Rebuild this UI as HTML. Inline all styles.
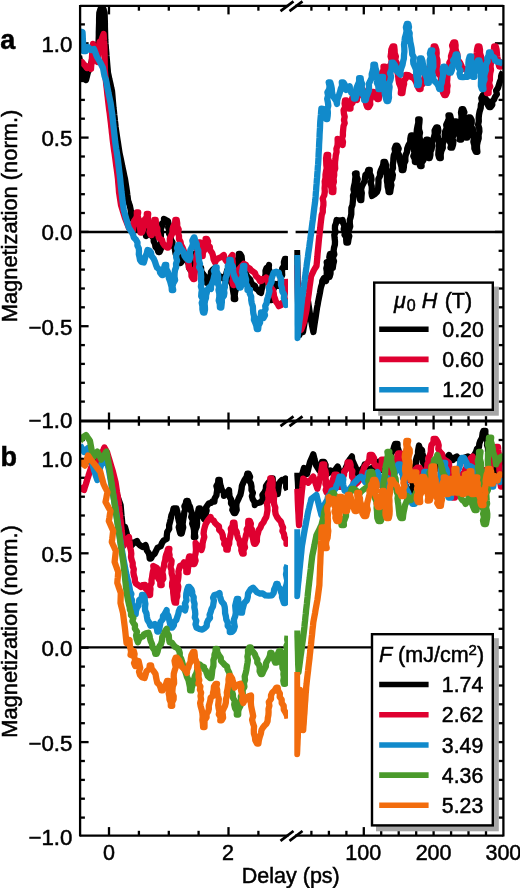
<!DOCTYPE html>
<html><head><meta charset="utf-8"><title>Magnetization vs delay</title>
<style>html,body{margin:0;padding:0;background:#fff}body{width:520px;height:888px;overflow:hidden}svg{display:block}text{font-family:"Liberation Sans",Arial,Helvetica,sans-serif;fill:#000;stroke:#000;stroke-width:0.5px}</style>
</head><body>
<svg width="520" height="888" viewBox="0 0 520 888">
<rect x="0" y="0" width="520" height="888" fill="#fff"/>
<defs>
<clipPath id="cAL"><rect x="80.1" y="5.9" width="207.9" height="415.1"/></clipPath>
<clipPath id="cAR"><rect x="294.3" y="5.9" width="209.1" height="415.1"/></clipPath>
<clipPath id="cBL"><rect x="80.1" y="421.0" width="207.9" height="414.6"/></clipPath>
<clipPath id="cBR"><rect x="294.3" y="421.0" width="209.1" height="414.6"/></clipPath>
</defs>
<g stroke="#000" stroke-width="2.3" fill="none" stroke-linecap="butt">
<line x1="109.0" y1="5.9" x2="109.0" y2="14.4"/>
<line x1="109.0" y1="412.5" x2="109.0" y2="429.5"/>
<line x1="109.0" y1="827.1" x2="109.0" y2="835.6"/>
<line x1="138.9" y1="5.9" x2="138.9" y2="10.7"/>
<line x1="138.9" y1="416.2" x2="138.9" y2="425.8"/>
<line x1="138.9" y1="830.8" x2="138.9" y2="835.6"/>
<line x1="168.8" y1="5.9" x2="168.8" y2="10.7"/>
<line x1="168.8" y1="416.2" x2="168.8" y2="425.8"/>
<line x1="168.8" y1="830.8" x2="168.8" y2="835.6"/>
<line x1="198.6" y1="5.9" x2="198.6" y2="10.7"/>
<line x1="198.6" y1="416.2" x2="198.6" y2="425.8"/>
<line x1="198.6" y1="830.8" x2="198.6" y2="835.6"/>
<line x1="228.5" y1="5.9" x2="228.5" y2="14.4"/>
<line x1="228.5" y1="412.5" x2="228.5" y2="429.5"/>
<line x1="228.5" y1="827.1" x2="228.5" y2="835.6"/>
<line x1="258.4" y1="5.9" x2="258.4" y2="10.7"/>
<line x1="258.4" y1="416.2" x2="258.4" y2="425.8"/>
<line x1="258.4" y1="830.8" x2="258.4" y2="835.6"/>
<line x1="311.4" y1="5.9" x2="311.4" y2="10.7"/>
<line x1="311.4" y1="416.2" x2="311.4" y2="425.8"/>
<line x1="311.4" y1="830.8" x2="311.4" y2="835.6"/>
<line x1="328.9" y1="5.9" x2="328.9" y2="10.7"/>
<line x1="328.9" y1="416.2" x2="328.9" y2="425.8"/>
<line x1="328.9" y1="830.8" x2="328.9" y2="835.6"/>
<line x1="346.4" y1="5.9" x2="346.4" y2="10.7"/>
<line x1="346.4" y1="416.2" x2="346.4" y2="425.8"/>
<line x1="346.4" y1="830.8" x2="346.4" y2="835.6"/>
<line x1="363.8" y1="5.9" x2="363.8" y2="14.4"/>
<line x1="363.8" y1="412.5" x2="363.8" y2="429.5"/>
<line x1="363.8" y1="827.1" x2="363.8" y2="835.6"/>
<line x1="381.2" y1="5.9" x2="381.2" y2="10.7"/>
<line x1="381.2" y1="416.2" x2="381.2" y2="425.8"/>
<line x1="381.2" y1="830.8" x2="381.2" y2="835.6"/>
<line x1="398.7" y1="5.9" x2="398.7" y2="10.7"/>
<line x1="398.7" y1="416.2" x2="398.7" y2="425.8"/>
<line x1="398.7" y1="830.8" x2="398.7" y2="835.6"/>
<line x1="416.2" y1="5.9" x2="416.2" y2="10.7"/>
<line x1="416.2" y1="416.2" x2="416.2" y2="425.8"/>
<line x1="416.2" y1="830.8" x2="416.2" y2="835.6"/>
<line x1="433.6" y1="5.9" x2="433.6" y2="14.4"/>
<line x1="433.6" y1="412.5" x2="433.6" y2="429.5"/>
<line x1="433.6" y1="827.1" x2="433.6" y2="835.6"/>
<line x1="451.1" y1="5.9" x2="451.1" y2="10.7"/>
<line x1="451.1" y1="416.2" x2="451.1" y2="425.8"/>
<line x1="451.1" y1="830.8" x2="451.1" y2="835.6"/>
<line x1="468.5" y1="5.9" x2="468.5" y2="10.7"/>
<line x1="468.5" y1="416.2" x2="468.5" y2="425.8"/>
<line x1="468.5" y1="830.8" x2="468.5" y2="835.6"/>
<line x1="486.0" y1="5.9" x2="486.0" y2="10.7"/>
<line x1="486.0" y1="416.2" x2="486.0" y2="425.8"/>
<line x1="486.0" y1="830.8" x2="486.0" y2="835.6"/>
<line x1="80.1" y1="401.6" x2="84.9" y2="401.6"/>
<line x1="498.6" y1="401.6" x2="503.4" y2="401.6"/>
<line x1="80.1" y1="382.8" x2="84.9" y2="382.8"/>
<line x1="498.6" y1="382.8" x2="503.4" y2="382.8"/>
<line x1="80.1" y1="363.9" x2="84.9" y2="363.9"/>
<line x1="498.6" y1="363.9" x2="503.4" y2="363.9"/>
<line x1="80.1" y1="345.1" x2="84.9" y2="345.1"/>
<line x1="498.6" y1="345.1" x2="503.4" y2="345.1"/>
<line x1="80.1" y1="326.2" x2="88.6" y2="326.2"/>
<line x1="494.9" y1="326.2" x2="503.4" y2="326.2"/>
<line x1="80.1" y1="307.3" x2="84.9" y2="307.3"/>
<line x1="498.6" y1="307.3" x2="503.4" y2="307.3"/>
<line x1="80.1" y1="288.5" x2="84.9" y2="288.5"/>
<line x1="498.6" y1="288.5" x2="503.4" y2="288.5"/>
<line x1="80.1" y1="269.6" x2="84.9" y2="269.6"/>
<line x1="498.6" y1="269.6" x2="503.4" y2="269.6"/>
<line x1="80.1" y1="250.8" x2="84.9" y2="250.8"/>
<line x1="498.6" y1="250.8" x2="503.4" y2="250.8"/>
<line x1="80.1" y1="231.9" x2="88.6" y2="231.9"/>
<line x1="494.9" y1="231.9" x2="503.4" y2="231.9"/>
<line x1="80.1" y1="213.0" x2="84.9" y2="213.0"/>
<line x1="498.6" y1="213.0" x2="503.4" y2="213.0"/>
<line x1="80.1" y1="194.2" x2="84.9" y2="194.2"/>
<line x1="498.6" y1="194.2" x2="503.4" y2="194.2"/>
<line x1="80.1" y1="175.3" x2="84.9" y2="175.3"/>
<line x1="498.6" y1="175.3" x2="503.4" y2="175.3"/>
<line x1="80.1" y1="156.5" x2="84.9" y2="156.5"/>
<line x1="498.6" y1="156.5" x2="503.4" y2="156.5"/>
<line x1="80.1" y1="137.6" x2="88.6" y2="137.6"/>
<line x1="494.9" y1="137.6" x2="503.4" y2="137.6"/>
<line x1="80.1" y1="118.7" x2="84.9" y2="118.7"/>
<line x1="498.6" y1="118.7" x2="503.4" y2="118.7"/>
<line x1="80.1" y1="99.9" x2="84.9" y2="99.9"/>
<line x1="498.6" y1="99.9" x2="503.4" y2="99.9"/>
<line x1="80.1" y1="81.0" x2="84.9" y2="81.0"/>
<line x1="498.6" y1="81.0" x2="503.4" y2="81.0"/>
<line x1="80.1" y1="62.2" x2="84.9" y2="62.2"/>
<line x1="498.6" y1="62.2" x2="503.4" y2="62.2"/>
<line x1="80.1" y1="43.3" x2="88.6" y2="43.3"/>
<line x1="494.9" y1="43.3" x2="503.4" y2="43.3"/>
<line x1="80.1" y1="24.4" x2="84.9" y2="24.4"/>
<line x1="498.6" y1="24.4" x2="503.4" y2="24.4"/>
<line x1="80.1" y1="817.6" x2="84.9" y2="817.6"/>
<line x1="498.6" y1="817.6" x2="503.4" y2="817.6"/>
<line x1="80.1" y1="798.7" x2="84.9" y2="798.7"/>
<line x1="498.6" y1="798.7" x2="503.4" y2="798.7"/>
<line x1="80.1" y1="779.9" x2="84.9" y2="779.9"/>
<line x1="498.6" y1="779.9" x2="503.4" y2="779.9"/>
<line x1="80.1" y1="761.0" x2="84.9" y2="761.0"/>
<line x1="498.6" y1="761.0" x2="503.4" y2="761.0"/>
<line x1="80.1" y1="742.1" x2="88.6" y2="742.1"/>
<line x1="494.9" y1="742.1" x2="503.4" y2="742.1"/>
<line x1="80.1" y1="723.2" x2="84.9" y2="723.2"/>
<line x1="498.6" y1="723.2" x2="503.4" y2="723.2"/>
<line x1="80.1" y1="704.3" x2="84.9" y2="704.3"/>
<line x1="498.6" y1="704.3" x2="503.4" y2="704.3"/>
<line x1="80.1" y1="685.5" x2="84.9" y2="685.5"/>
<line x1="498.6" y1="685.5" x2="503.4" y2="685.5"/>
<line x1="80.1" y1="666.6" x2="84.9" y2="666.6"/>
<line x1="498.6" y1="666.6" x2="503.4" y2="666.6"/>
<line x1="80.1" y1="647.7" x2="88.6" y2="647.7"/>
<line x1="494.9" y1="647.7" x2="503.4" y2="647.7"/>
<line x1="80.1" y1="628.8" x2="84.9" y2="628.8"/>
<line x1="498.6" y1="628.8" x2="503.4" y2="628.8"/>
<line x1="80.1" y1="609.9" x2="84.9" y2="609.9"/>
<line x1="498.6" y1="609.9" x2="503.4" y2="609.9"/>
<line x1="80.1" y1="591.1" x2="84.9" y2="591.1"/>
<line x1="498.6" y1="591.1" x2="503.4" y2="591.1"/>
<line x1="80.1" y1="572.2" x2="84.9" y2="572.2"/>
<line x1="498.6" y1="572.2" x2="503.4" y2="572.2"/>
<line x1="80.1" y1="553.3" x2="88.6" y2="553.3"/>
<line x1="494.9" y1="553.3" x2="503.4" y2="553.3"/>
<line x1="80.1" y1="534.4" x2="84.9" y2="534.4"/>
<line x1="498.6" y1="534.4" x2="503.4" y2="534.4"/>
<line x1="80.1" y1="515.5" x2="84.9" y2="515.5"/>
<line x1="498.6" y1="515.5" x2="503.4" y2="515.5"/>
<line x1="80.1" y1="496.7" x2="84.9" y2="496.7"/>
<line x1="498.6" y1="496.7" x2="503.4" y2="496.7"/>
<line x1="80.1" y1="477.8" x2="84.9" y2="477.8"/>
<line x1="498.6" y1="477.8" x2="503.4" y2="477.8"/>
<line x1="80.1" y1="458.9" x2="88.6" y2="458.9"/>
<line x1="494.9" y1="458.9" x2="503.4" y2="458.9"/>
<line x1="80.1" y1="440.0" x2="84.9" y2="440.0"/>
<line x1="498.6" y1="440.0" x2="503.4" y2="440.0"/>
<line x1="80.1" y1="232.0" x2="287.8" y2="232.0"/>
<line x1="295.6" y1="232.0" x2="503.4" y2="232.0"/>
<line x1="80.1" y1="647.4" x2="287.8" y2="647.4"/>
<line x1="295.6" y1="647.4" x2="503.4" y2="647.4"/>
</g>
<polyline clip-path="url(#cAL)" points="79.0,56.0 79.7,59.3 80.3,62.7 81.0,66.0 81.6,69.0 82.2,72.0 82.9,75.0 83.5,78.0 86.0,80.0 86.7,77.3 87.3,74.7 88.0,72.0 89.0,70.0 90.0,68.0 90.7,65.3 91.3,62.7 92.0,60.0 93.0,57.5 94.0,55.0 95.0,52.5 96.0,50.0 96.9,47.3 97.7,44.7 98.6,42.0 98.7,38.8 98.8,35.6 98.8,32.3 98.9,29.1 99.0,25.9 99.1,22.7 99.1,19.4 99.2,16.2 99.3,13.0 99.9,11.0 100.5,9.0 103.5,9.0 104.0,11.0 104.6,13.0 104.7,16.4 104.8,19.8 104.9,23.1 104.9,26.5 105.0,29.9 105.1,33.2 105.2,36.6 105.3,40.0 105.5,43.2 105.8,46.4 106.0,49.6 106.3,52.8 106.5,56.0 106.8,59.4 107.1,62.8 107.4,66.2 107.7,69.6 108.0,73.0 108.7,76.0 109.3,79.0 110.0,82.0 110.7,85.0 111.3,88.0 112.0,91.0 112.3,94.4 112.6,97.8 112.9,101.2 113.2,104.6 113.5,108.0 113.9,111.1 114.2,114.3 114.6,117.4 114.9,120.6 115.3,123.7 115.6,126.9 116.0,130.0 116.5,133.3 117.0,136.6 117.5,139.9 118.0,143.1 118.5,146.4 119.0,149.7 119.5,153.0 120.2,156.2 120.9,159.5 121.6,162.8 122.2,166.0 122.9,169.2 123.6,172.5 124.3,175.8 125.0,179.0 125.5,182.2 126.0,185.5 126.5,188.8 127.0,192.0 127.3,194.7 127.7,197.3 128.0,200.0 128.8,202.8 129.8,205.5 130.4,208.3 130.9,211.1 131.0,214.0 131.5,217.5 133.5,220.5 134.0,224.0 135.5,225.9 136.4,228.2 138.0,230.0 139.2,227.4 141.0,225.0 141.3,222.0 142.7,222.0 143.4,224.8 144.2,227.6 144.5,230.5 145.9,233.1 146.0,236.0 148.0,234.4 148.5,231.9 150.0,230.0 151.2,232.7 151.7,235.7 153.7,238.2 153.7,241.3 155.0,244.0 155.5,246.9 157.5,249.2 158.3,252.0 159.7,252.0 160.9,248.8 160.3,245.5 161.1,242.3 160.8,239.0 160.9,235.7 161.0,232.5 160.7,229.2 162.0,226.0 162.1,223.5 164.3,221.6 164.0,219.0 166.0,220.1 168.0,221.0 168.6,224.2 168.2,227.5 169.3,230.5 169.1,233.8 170.8,236.8 171.0,240.0 172.5,242.3 172.2,245.3 174.6,247.2 175.0,250.0 175.5,253.4 177.0,256.6 177.3,260.1 179.3,263.0 180.7,263.0 182.4,260.6 182.7,257.8 183.3,255.0 184.7,255.0 186.6,256.9 187.8,259.3 188.0,262.0 188.8,264.7 188.9,267.5 190.3,270.0 191.7,270.0 191.2,266.7 192.2,263.6 191.8,260.3 192.6,257.2 193.3,254.0 194.7,254.0 196.7,256.3 197.2,259.2 198.0,262.0 199.2,265.0 201.1,267.8 201.2,271.2 203.0,274.0 205.1,276.7 206.1,279.8 206.8,283.0 208.2,283.0 208.4,280.1 209.4,277.5 210.8,274.9 211.0,272.0 212.8,269.8 215.0,268.0 216.0,270.8 216.9,273.7 219.0,276.0 221.9,276.9 224.0,279.0 225.8,276.3 226.4,273.1 227.3,270.0 228.7,270.0 228.8,273.1 229.6,276.0 230.6,279.0 231.0,282.0 232.4,285.3 232.8,288.7 233.3,292.1 233.9,295.5 233.8,299.0 235.2,299.0 234.7,295.7 235.0,292.5 235.9,289.3 236.5,286.1 236.8,282.9 237.1,279.7 235.8,276.4 237.4,273.3 237.0,270.0 236.7,266.7 236.9,263.5 237.7,260.4 238.6,257.2 238.8,254.0 240.2,254.0 241.6,256.6 241.9,259.5 242.1,262.4 241.8,265.3 243.0,268.0 244.5,270.6 245.8,273.3 247.0,276.0 248.5,277.9 250.3,279.5 251.0,282.0 252.5,284.5 255.0,286.0 255.8,288.5 258.0,290.0 259.2,291.8 261.0,293.0 261.6,289.7 262.4,286.5 262.9,283.2 264.0,280.0 264.9,277.1 265.6,274.1 265.5,270.9 266.5,268.0 268.3,267.0 269.0,265.0 268.7,268.5 269.8,272.0 268.8,275.5 269.2,279.0 270.2,282.5 270.2,286.0 269.4,289.5 270.9,293.0 270.3,296.5 270.3,300.0 271.7,300.0 273.1,296.8 272.1,293.3 273.0,290.0 274.5,287.0 276.0,284.0 277.0,285.7 279.0,286.0 280.3,283.4 280.8,280.5 280.9,277.6 282.2,275.0 282.0,272.0 282.2,268.6 284.1,265.7 283.9,262.2 284.8,259.0 286.2,259.0 286.2,261.8 286.6,264.5 287.6,267.2 287.5,270.0" fill="none" stroke="#000000" stroke-width="6.3" stroke-linejoin="round" stroke-linecap="butt"/>
<polyline clip-path="url(#cAR)" points="297.0,250.0 297.1,253.3 297.1,256.7 297.2,260.0 297.3,263.3 297.3,266.7 297.4,270.0 297.5,273.3 297.5,276.7 297.6,280.0 297.7,283.3 297.7,286.7 297.8,290.0 297.9,293.3 297.9,296.7 298.0,300.0 298.1,303.5 298.3,307.0 298.4,310.5 298.6,314.0 298.8,317.5 298.9,321.0 299.1,324.5 299.2,328.0 299.4,331.5 299.5,335.0 300.0,331.6 300.5,328.2 301.0,324.8 301.5,321.4 302.0,318.0 302.2,321.5 302.5,325.0 302.8,328.5 303.0,332.0 303.5,329.0 304.0,326.0 304.5,323.0 305.0,320.0 305.5,316.8 306.0,313.7 306.5,310.5 307.0,307.3 307.5,304.2 308.0,301.0 308.5,304.4 309.0,307.8 309.5,311.2 310.0,314.6 310.5,318.0 311.1,320.8 311.7,323.6 312.2,326.4 312.8,329.2 313.4,332.0 313.9,328.6 314.4,325.1 314.9,321.7 315.5,318.3 316.0,314.9 316.5,311.4 317.0,308.0 317.6,305.0 318.1,302.0 318.7,299.0 319.3,296.0 319.9,293.0 320.4,290.0 321.0,287.0 322.0,284.0 322.3,280.8 324.0,278.0 325.1,279.4 326.0,281.0 326.7,277.9 326.7,274.7 326.8,271.5 326.3,268.3 327.2,265.2 326.7,262.0 327.9,262.0 327.9,265.0 328.9,268.0 328.2,271.0 329.1,274.0 328.3,277.0 329.6,277.0 330.5,273.7 330.6,270.4 329.4,267.1 329.4,263.9 330.4,260.6 329.3,257.3 329.9,254.0 331.2,254.0 331.9,257.5 332.0,261.0 331.7,264.5 331.5,268.0 332.8,268.0 333.2,264.6 334.0,261.2 332.7,257.8 334.3,254.4 333.6,251.0 334.0,247.8 334.9,244.6 335.0,241.3 334.6,238.0 334.3,234.9 335.6,232.0 334.9,228.9 335.0,225.9 336.1,223.0 336.6,220.0 339.6,220.5 342.6,220.0 343.1,223.0 344.4,225.9 343.7,229.1 345.0,232.0 344.5,234.7 346.2,237.2 346.2,239.9 346.4,242.5 348.0,242.5 348.5,239.3 349.3,236.1 348.0,232.8 349.1,229.7 350.2,226.5 349.8,223.2 349.8,220.0 350.7,217.1 351.3,214.1 351.3,211.0 351.4,207.9 352.5,205.0 352.8,202.0 353.1,198.8 353.0,195.6 354.2,192.6 353.5,189.3 354.0,186.2 354.8,183.0 355.1,179.9 355.5,176.7 355.0,173.5 356.6,173.5 356.6,176.4 357.7,179.3 356.7,182.3 356.9,185.2 358.0,188.0 358.1,191.1 358.5,194.1 359.5,197.0 360.1,200.0 361.3,200.0 361.5,196.5 361.8,193.0 361.1,189.5 362.0,186.0 363.3,183.5 364.7,180.9 365.0,178.0 365.4,175.1 367.6,172.9 368.2,170.0 369.8,170.0 369.7,173.3 371.1,176.4 371.5,179.7 370.7,183.0 371.7,186.2 371.8,189.5 371.5,192.8 372.0,196.0 374.7,194.2 377.0,192.0 378.1,188.9 378.3,185.6 378.5,182.3 378.4,179.0 380.0,176.0 380.0,173.0 380.8,170.3 382.1,167.6 383.2,164.9 383.5,162.0 385.1,162.0 386.1,165.1 386.1,168.4 385.4,171.7 386.8,174.8 387.0,178.0 386.9,180.8 387.4,183.6 387.6,186.4 388.3,189.2 388.6,192.0 390.2,192.0 390.7,188.6 391.4,185.2 390.7,181.6 392.4,178.4 392.9,174.9 391.7,171.3 393.0,168.0 392.8,164.7 393.3,161.6 393.4,158.3 393.8,155.2 395.2,152.1 394.6,148.8 395.7,145.7 397.3,145.7 398.7,148.6 397.5,152.0 399.1,154.9 399.5,158.0 400.0,161.0 400.7,164.0 401.5,166.9 401.8,170.0 403.4,170.0 403.9,167.0 404.0,163.9 405.4,161.0 405.3,157.9 405.7,154.9 407.0,152.0 407.2,148.6 408.4,145.4 410.2,142.3 410.3,138.8 410.9,135.5 412.5,135.5 411.8,138.5 413.2,141.3 413.7,144.2 413.0,147.1 413.7,150.0 414.6,152.9 413.3,156.1 414.8,159.0 414.9,162.0 416.3,162.0 416.0,158.8 416.2,155.7 416.4,152.6 417.8,149.5 418.0,146.3 417.3,143.1 417.3,140.0 416.9,136.5 416.6,133.1 416.9,129.6 417.5,126.2 418.3,122.8 418.2,119.3 419.6,119.3 419.4,122.6 419.0,126.0 419.0,129.3 420.0,132.6 419.4,136.0 419.9,139.3 419.3,142.7 420.5,146.0 418.9,149.3 420.8,152.6 419.7,156.0 420.2,159.3 419.4,162.7 420.0,166.0 421.6,166.0 421.4,163.1 423.3,160.5 422.1,157.4 424.0,154.9 424.0,152.0 425.0,149.0 425.1,145.8 425.0,142.6 426.2,139.6 427.8,139.6 428.1,142.7 428.0,145.7 428.6,148.8 428.7,151.9 427.4,154.9 428.2,158.0 429.8,158.0 430.4,155.0 430.4,151.9 431.6,149.0 432.2,146.0 431.8,142.9 433.0,140.0 434.0,136.9 434.8,133.7 434.6,130.4 436.2,127.4 437.8,127.4 438.4,130.8 437.4,134.2 438.1,137.6 439.0,141.0 438.8,144.4 438.8,147.8 438.5,151.2 438.3,154.6 439.2,158.0 440.8,158.0 440.7,154.5 441.3,151.1 442.8,148.0 442.7,144.5 443.6,141.2 445.0,138.0 444.7,134.6 445.2,131.4 446.7,128.3 446.2,124.9 447.6,121.8 448.9,118.7 448.5,115.3 450.1,115.3 450.9,118.5 449.7,121.8 450.1,125.0 450.9,128.3 449.4,131.5 449.9,134.7 450.6,138.0 449.6,141.2 451.3,144.5 450.5,147.7 452.1,147.7 453.1,144.5 453.4,141.2 452.2,137.8 454.1,134.6 454.2,131.3 454.7,128.1 453.8,124.6 454.5,121.4 456.1,121.4 456.2,124.5 456.7,127.6 458.1,130.4 459.3,133.4 460.0,136.4 459.6,139.6 461.2,139.6 461.3,136.2 461.4,132.8 460.6,129.5 461.6,126.1 460.5,122.7 461.4,119.3 461.5,116.0 461.0,112.6 461.6,109.2 463.2,109.2 464.4,112.3 463.0,115.6 463.3,118.7 464.1,121.8 465.5,124.9 464.8,128.1 464.2,131.4 464.9,134.5 465.7,137.6 467.3,137.6 467.9,134.2 466.8,130.8 468.2,127.5 467.7,124.0 469.4,120.8 468.7,117.3 470.3,117.3 471.7,120.1 471.7,123.1 470.9,126.3 472.9,129.0 472.9,132.0 473.0,135.0 473.9,138.3 473.4,141.8 474.3,145.1 474.4,148.6 475.8,151.8 477.4,151.8 477.0,148.4 477.0,145.0 477.7,141.6 478.7,138.3 478.6,134.9 479.4,131.5 479.2,128.1 478.1,124.7 478.8,121.3 478.7,117.9 479.0,114.6 479.7,111.2 480.7,108.0 480.9,104.7 482.1,101.6 481.3,98.1 482.9,95.0 484.5,95.0 484.9,98.3 487.4,100.8 487.4,104.2 489.0,107.0 490.6,107.0 492.3,104.8 492.0,101.6 494.0,99.5 495.0,97.0 496.9,94.3 496.1,90.6 498.0,87.9 498.9,84.8 499.8,81.8 501.0,78.8 501.1,76.4 501.7,74.1 503.0,72.0" fill="none" stroke="#000000" stroke-width="6.3" stroke-linejoin="round" stroke-linecap="butt"/>
<polyline clip-path="url(#cAL)" points="79.0,64.0 80.5,63.0 82.0,62.0 83.2,63.5 84.5,65.0 85.8,66.5 87.0,68.0 89.0,66.0 90.0,67.5 91.0,69.0 91.2,65.9 91.5,62.8 91.8,59.6 92.0,56.5 92.2,53.4 92.5,50.2 92.8,47.1 93.0,44.0 93.5,47.2 94.0,50.4 94.5,53.6 95.0,56.8 95.5,60.0 97.5,62.0 97.8,58.7 98.2,55.3 98.5,52.0 98.8,48.7 99.2,45.3 99.5,42.0 101.5,40.0 102.5,37.0 103.6,34.0 103.8,37.5 104.0,41.0 104.3,44.5 104.5,48.0 104.5,51.1 104.6,54.3 104.6,57.4 104.7,60.6 104.7,63.7 104.8,66.9 104.8,70.0 105.1,73.0 105.4,76.0 105.7,79.0 106.0,82.0 106.3,85.0 106.7,88.0 107.0,91.0 107.3,94.0 107.7,97.0 108.0,100.0 108.4,103.3 108.8,106.7 109.2,110.0 109.7,113.3 110.1,116.7 110.5,120.0 110.9,123.1 111.2,126.3 111.6,129.4 111.9,132.6 112.3,135.7 112.6,138.9 113.0,142.0 113.4,145.0 113.8,148.0 114.2,151.0 114.7,154.0 115.1,157.0 115.5,160.0 115.9,163.2 116.3,166.3 116.8,169.5 117.2,172.7 117.6,175.8 118.0,179.0 118.2,182.2 118.5,185.5 118.8,188.8 119.0,192.0 119.5,195.2 120.0,198.5 120.5,201.8 121.0,205.0 122.0,208.2 123.0,211.5 124.0,214.8 125.0,218.0 126.0,220.5 127.0,223.0 128.0,225.5 129.0,228.0 130.6,229.7 133.0,230.0 133.0,227.0 133.5,224.0 134.1,221.1 136.0,218.4 136.9,215.6 136.8,212.5 138.2,212.5 137.6,215.9 138.6,219.2 139.1,222.5 139.4,225.9 140.2,229.2 140.6,232.5 141.9,232.5 143.1,229.3 144.0,226.0 144.0,222.8 144.5,219.7 146.8,217.0 146.8,213.8 148.2,213.8 147.9,216.9 147.9,219.9 148.7,222.9 149.4,225.9 150.5,228.9 149.5,232.0 150.6,235.0 151.9,235.0 152.5,232.0 153.6,229.1 153.9,226.1 154.4,223.1 154.3,220.0 155.7,220.0 155.9,223.0 156.1,225.9 157.4,228.7 157.3,231.7 158.2,234.6 158.8,237.5 160.2,238.9 162.0,240.0 162.8,243.0 164.5,245.4 166.8,247.5 168.2,247.5 169.3,244.7 169.8,241.8 169.8,238.7 171.0,236.0 172.5,233.0 172.5,229.6 173.3,226.3 175.1,223.4 175.3,220.0 176.7,220.0 177.2,223.2 177.2,226.5 178.7,229.5 178.0,232.9 179.0,236.0 179.0,239.1 180.5,241.8 181.0,244.8 182.5,247.5 183.5,250.1 184.4,252.7 186.0,255.0 187.0,258.3 188.2,261.6 188.8,265.0 189.1,267.9 191.0,270.0 191.4,273.1 191.5,276.2 193.1,279.0 194.4,279.0 194.5,275.6 194.8,272.1 195.8,268.8 196.3,265.4 196.5,262.0 196.0,258.7 196.4,255.4 197.8,252.3 197.0,248.9 197.6,245.7 198.7,242.5 200.1,242.5 199.5,246.0 199.8,249.3 200.2,252.7 201.3,256.0 202.7,256.0 202.9,252.5 204.8,249.3 204.2,245.6 205.6,242.3 205.6,238.8 206.9,238.8 208.1,241.5 207.6,244.6 209.9,247.0 210.0,250.0 212.1,252.8 213.1,256.0 213.6,259.5 215.0,262.5 216.4,259.7 219.0,258.0 221.6,256.8 223.8,255.0 224.4,257.8 225.7,260.3 227.5,262.5 229.8,260.1 231.0,257.0 232.5,255.0 232.2,258.3 232.7,261.7 232.7,265.0 233.3,268.3 232.8,271.7 232.8,275.0 233.1,278.3 232.4,281.7 233.2,285.0 234.4,285.0 235.9,281.8 235.8,278.2 237.0,275.0 238.7,273.0 238.7,270.2 240.0,268.0 241.9,265.9 243.8,263.8 245.9,264.8 247.0,267.0 250.0,268.8 251.0,270.3 252.5,271.2 255.0,273.1 256.0,276.0 258.5,278.2 260.0,281.2 261.9,280.7 263.0,279.0 265.0,279.0 266.2,277.5 267.5,280.0 268.2,282.8 270.0,285.0 271.0,287.7 272.9,290.2 273.7,293.0 274.0,296.0 275.0,298.7 275.8,301.4 277.6,303.7 278.8,306.2 281.0,305.2 282.0,303.0 284.1,302.1 285.0,300.0 284.3,296.9 284.7,293.9 286.1,290.9 287.0,287.9 286.5,284.8 287.1,281.8 286.9,278.8" fill="none" stroke="#df0030" stroke-width="6.3" stroke-linejoin="round" stroke-linecap="butt"/>
<polyline clip-path="url(#cAR)" points="297.0,265.0 297.1,268.3 297.2,271.7 297.3,275.0 297.4,278.3 297.5,281.7 297.6,285.0 297.7,288.3 297.8,291.7 297.9,295.0 298.0,298.3 298.1,301.7 298.2,305.0 298.3,308.3 298.4,311.7 298.5,315.0 299.0,318.0 299.5,321.0 300.0,324.0 300.5,327.0 301.0,330.0 302.0,327.3 303.0,324.7 304.0,322.0 304.6,319.0 305.2,316.0 305.9,313.0 306.5,310.0 306.9,306.6 307.4,303.3 307.9,299.9 308.3,296.6 308.8,293.2 309.2,289.9 309.6,286.6 310.1,283.2 310.6,279.9 311.0,276.5 312.0,274.3 313.0,272.2 314.0,270.0 315.2,268.0 316.5,266.0 316.8,262.9 317.1,259.8 317.4,256.6 317.6,253.5 317.9,250.4 318.2,247.2 318.5,244.1 318.8,241.0 319.1,237.8 319.5,234.6 319.8,231.4 320.2,228.2 320.5,225.0 320.9,221.7 321.3,218.4 321.7,215.1 322.8,211.9 322.8,208.6 323.4,205.3 323.4,202.0 322.7,198.5 324.3,195.2 324.8,191.8 324.6,188.3 324.9,184.9 324.7,181.4 325.5,178.0 325.5,174.7 326.0,171.4 326.7,168.2 326.3,164.9 326.2,161.6 326.1,158.3 326.6,155.0 328.2,155.0 328.0,158.4 329.2,161.6 330.0,164.9 329.3,168.3 329.7,171.7 330.0,175.0 329.7,178.5 330.8,181.8 330.7,185.2 331.6,188.6 331.7,192.0 333.3,192.0 333.5,188.6 332.9,185.2 333.9,181.9 333.6,178.5 334.2,175.1 334.1,171.7 335.2,168.4 335.0,165.0 335.1,161.7 335.5,158.5 335.8,155.2 336.6,152.0 336.4,148.7 337.5,145.6 337.7,142.3 337.6,139.0 339.1,140.3 340.0,142.0 341.2,143.6 342.6,145.0 343.0,141.9 342.0,138.7 342.9,135.6 342.9,132.5 343.2,129.4 343.5,126.2 344.7,123.2 344.0,120.0 344.7,116.8 343.9,113.5 343.6,110.2 345.2,107.0 344.6,103.7 345.0,100.5 346.5,100.5 348.2,102.9 348.5,105.8 348.9,108.6 350.5,108.6 350.5,105.3 352.7,102.5 351.9,99.1 353.0,96.0 355.0,98.0 357.0,100.0 356.9,96.8 359.3,94.2 359.4,91.0 360.2,88.0 361.8,88.0 363.5,90.8 363.2,94.1 363.5,97.2 365.0,100.0 365.8,102.3 366.4,104.7 367.2,107.0 368.8,107.0 370.3,104.2 370.0,101.0 371.0,98.0 372.3,95.2 372.2,92.0 373.8,92.0 374.6,94.5 376.0,96.7 377.2,99.0 378.8,99.0 378.9,95.7 380.0,92.6 380.7,89.4 381.1,86.1 380.6,82.7 381.2,79.5 382.2,76.3 381.8,73.0 383.6,69.9 383.5,66.6 385.1,66.6 386.1,69.9 386.6,73.2 387.1,76.6 387.2,80.0 388.8,80.0 388.6,76.6 390.2,73.4 389.7,69.9 389.5,66.5 391.3,63.3 391.6,59.9 390.6,56.4 391.1,53.0 391.3,49.7 392.6,46.4 394.2,46.4 394.6,49.8 394.7,53.2 395.9,56.5 395.2,60.0 396.9,63.2 396.9,66.6 397.0,70.0 397.7,73.3 398.2,76.5 398.5,79.9 399.1,83.2 400.4,86.3 401.2,89.6 400.8,93.0 402.4,93.0 402.8,90.0 403.3,86.9 404.1,84.0 403.9,80.8 406.1,78.1 406.0,75.0 408.6,75.1 410.7,76.8 413.3,77.8 415.0,80.0 416.4,83.0 417.5,86.1 419.0,89.0 420.6,89.0 420.7,86.0 423.0,83.6 423.2,80.6 424.5,77.9 425.0,75.0 426.6,73.2 428.3,71.6 430.0,70.0 430.3,66.6 430.8,63.2 431.4,59.9 432.4,56.6 433.1,53.2 433.3,49.8 433.7,46.4 435.3,46.4 436.4,49.7 436.7,53.1 436.4,56.5 437.4,59.8 437.5,63.2 437.1,66.7 438.0,70.0 438.2,73.6 440.8,76.4 441.0,80.0 442.1,82.9 442.4,86.0 443.6,88.8 442.9,92.1 444.2,95.0 445.8,95.0 447.1,92.0 447.1,88.8 447.6,85.7 447.0,82.4 447.3,79.3 447.4,76.1 448.5,73.1 449.0,70.0 449.4,66.5 449.3,62.9 451.1,59.7 451.0,56.1 452.1,52.7 453.1,49.3 452.1,45.6 453.5,42.3 455.1,42.3 455.6,45.3 455.5,48.3 456.1,51.2 457.3,54.0 457.6,57.0 458.0,60.0 460.0,62.6 461.4,65.5 462.4,68.6 465.1,69.3 467.8,70.0 470.0,72.0 471.2,69.6 471.1,66.6 473.1,64.5 474.0,62.0 475.1,59.0 476.2,55.9 476.8,52.8 477.0,49.5 477.8,46.4 479.4,46.4 480.0,49.8 480.0,53.2 481.0,56.5 481.9,59.8 482.8,63.1 483.2,66.5 483.0,70.0 484.0,73.2 483.9,76.6 485.2,79.8 485.8,83.0 485.9,86.4 487.3,89.6 487.0,93.0 488.6,93.0 488.6,89.7 490.2,86.5 489.0,83.1 489.9,79.9 489.9,76.5 490.2,73.2 491.0,70.0 490.6,66.5 490.9,63.1 491.4,59.8 492.7,56.5 493.2,53.1 493.9,49.8 494.2,46.4 495.8,46.4 496.6,49.7 496.9,53.1 497.2,56.6 497.9,59.9 498.4,63.3 499.2,66.6 500.8,66.6 501.1,63.0 503.0,60.0" fill="none" stroke="#df0030" stroke-width="6.3" stroke-linejoin="round" stroke-linecap="butt"/>
<polyline clip-path="url(#cAL)" points="78.0,31.0 80.2,31.5 82.5,32.0 82.7,35.2 82.8,38.3 83.0,41.5 83.2,44.7 83.3,47.8 83.5,51.0 86.0,51.0 87.0,49.0 88.0,47.0 89.5,48.5 91.0,50.0 94.0,49.0 95.0,51.7 96.0,54.3 97.0,57.0 98.5,59.5 100.0,62.0 101.5,65.0 103.0,68.0 103.5,70.7 104.0,73.3 104.5,76.0 105.2,78.0 106.0,80.0 106.6,83.2 107.2,86.5 107.9,89.8 108.5,93.0 109.2,96.3 109.9,99.7 110.6,103.0 111.0,105.8 111.4,108.5 111.8,111.2 112.2,114.0 112.5,116.8 112.8,119.6 113.1,122.4 113.4,125.2 113.7,128.0 114.0,130.8 114.3,133.6 114.6,136.4 114.9,139.2 115.2,142.0 115.7,145.4 116.2,148.8 116.8,152.2 117.3,155.6 117.8,159.0 118.2,162.3 118.6,165.7 119.0,169.0 119.4,172.3 119.8,175.7 120.2,179.0 120.5,182.2 120.8,185.5 121.2,188.8 121.5,192.0 121.9,195.0 122.2,198.0 122.6,201.0 123.0,204.0 123.4,207.0 123.8,210.0 124.6,212.9 125.4,215.8 126.2,218.8 127.1,221.7 127.9,224.6 128.8,227.5 130.2,229.9 131.8,232.2 133.1,234.7 133.8,237.5 136.0,239.7 137.5,242.5 137.4,245.5 138.8,248.3 139.0,251.2 138.8,254.2 139.5,257.1 140.0,260.0 141.4,262.0 143.8,262.5 144.7,259.4 145.5,256.2 146.8,253.2 147.5,250.0 149.6,250.8 151.0,252.5 151.5,255.9 153.7,258.7 155.0,261.8 156.0,265.0 157.1,267.7 159.5,269.7 160.1,272.7 161.8,275.0 163.2,275.0 164.4,271.8 163.9,268.3 164.8,265.0 166.2,265.0 166.2,268.6 167.8,271.7 168.8,275.0 168.8,278.1 170.0,281.0 170.8,284.0 171.6,286.9 171.8,290.0 173.2,290.0 172.5,286.6 173.2,283.3 175.1,280.1 174.5,276.7 174.6,273.3 175.0,270.0 176.2,267.0 176.0,263.8 177.1,260.7 176.2,257.5 176.3,254.3 178.1,251.4 177.0,248.0 178.1,245.0 179.4,245.0 180.4,247.8 182.2,250.1 183.8,252.5 184.3,255.5 185.8,257.9 188.1,260.0 189.4,260.0 190.4,256.8 189.8,253.4 190.4,250.2 191.9,247.1 193.1,244.0 192.3,240.6 193.8,237.5 194.4,237.5 195.3,240.8 196.7,244.0 196.9,247.4 198.3,250.6 198.4,254.1 198.8,257.5 199.0,260.7 200.0,263.9 199.1,267.2 200.9,270.3 200.9,273.5 201.2,276.7 201.0,280.0 201.4,283.2 200.9,286.5 201.9,289.7 201.4,293.0 201.2,296.3 203.0,299.5 201.7,302.8 202.4,306.0 202.4,309.3 203.1,312.5 204.4,312.5 205.0,309.6 204.9,306.7 204.6,303.7 205.0,300.8 206.0,298.0 206.1,295.2 206.8,292.6 207.4,289.9 208.8,287.5 211.0,289.0 211.0,285.8 212.3,282.9 213.4,279.9 214.0,276.8 214.8,273.8 213.9,270.4 215.3,267.5 216.7,267.5 216.3,270.8 217.8,273.9 218.3,277.1 218.2,280.3 217.8,283.6 219.1,286.7 218.5,290.0 219.3,293.5 219.3,297.0 218.7,300.6 219.8,304.0 219.9,307.5 221.3,307.5 221.6,304.6 221.9,301.6 221.8,298.6 223.9,295.9 224.4,293.0 224.0,290.0 224.9,287.1 224.8,284.0 225.4,281.0 225.6,277.9 226.8,275.1 227.0,272.0 227.9,269.1 227.8,265.9 229.5,263.1 229.3,260.0 230.7,260.0 231.0,263.4 232.8,266.5 233.0,270.0 233.4,273.5 234.7,276.8 236.0,280.0 237.6,282.3 238.6,284.8 239.3,287.5 240.7,287.5 241.5,284.5 240.5,281.3 241.6,278.3 243.0,275.3 241.9,272.1 242.7,269.1 243.1,266.0 244.4,266.0 244.1,269.5 244.6,273.0 245.2,276.4 246.1,279.7 245.8,283.3 247.5,286.5 247.5,290.0 250.0,290.0 249.7,293.4 251.2,296.6 251.2,300.0 251.8,303.4 252.9,306.6 253.0,310.0 253.3,313.2 254.1,316.4 253.9,319.7 255.2,322.7 256.3,325.8 256.8,329.0 258.2,329.0 258.5,325.7 260.1,322.5 259.6,319.0 260.8,315.9 261.0,312.5 261.9,315.4 263.5,318.0 265.0,315.2 264.1,311.9 265.6,309.1 265.2,305.9 266.7,303.1 267.0,300.0 267.9,297.1 268.7,294.1 269.5,291.1 268.9,287.9 270.0,285.0 271.6,282.1 271.6,278.7 272.6,275.6 273.8,272.5 276.2,271.7 278.8,272.5 279.3,275.6 281.0,278.5 281.1,281.7 281.0,285.0 282.0,288.0 282.3,291.5 284.2,294.6 283.8,298.3 285.3,301.6 286.0,305.0 285.9,302.4 287.0,300.0" fill="none" stroke="#118acb" stroke-width="6.3" stroke-linejoin="round" stroke-linecap="butt"/>
<polyline clip-path="url(#cAR)" points="297.2,255.0 297.2,258.5 297.2,261.9 297.2,265.4 297.2,268.8 297.3,272.3 297.3,275.8 297.3,279.2 297.3,282.7 297.3,286.1 297.3,289.6 297.3,293.0 297.4,296.5 297.4,300.0 297.4,303.4 297.4,306.9 297.4,310.3 297.4,313.8 297.4,317.2 297.4,320.7 297.4,324.2 297.5,327.6 297.5,331.1 297.5,334.5 297.5,338.0 297.9,334.5 298.3,331.1 298.7,327.6 299.1,324.2 299.5,320.7 300.0,317.3 300.4,313.8 300.8,310.4 301.2,306.9 301.6,303.5 302.0,300.0 302.4,296.7 302.9,293.3 303.3,290.0 303.8,286.7 304.2,283.3 304.7,280.0 305.1,276.7 305.6,273.3 306.0,270.0 306.5,266.7 306.9,263.3 307.4,260.0 307.9,256.7 308.3,253.3 308.8,250.0 309.3,246.7 309.7,243.3 310.2,240.0 310.6,236.7 311.1,233.3 311.5,230.0 311.9,226.7 312.3,223.3 312.8,220.0 313.2,216.7 313.6,213.3 314.0,210.0 314.4,206.7 314.9,203.3 315.3,200.0 315.6,196.8 315.8,193.5 316.1,190.2 316.3,187.0 316.6,183.8 316.8,180.5 317.1,177.2 317.3,174.0 317.6,170.8 317.8,167.5 318.1,164.2 318.3,161.0 318.5,157.7 318.6,154.3 318.8,151.0 319.0,147.7 319.1,144.3 319.3,141.0 319.5,137.7 319.6,134.3 319.8,131.0 320.0,127.7 320.1,124.3 320.3,121.0 320.6,117.9 320.9,114.8 321.1,111.7 321.4,108.6 323.7,109.0 325.4,110.7 325.7,113.5 325.3,116.3 326.0,119.0 327.2,119.0 327.7,115.7 327.9,112.3 327.5,109.0 328.3,105.7 327.9,102.3 327.2,98.9 328.1,95.6 327.4,92.3 329.3,89.0 329.5,85.7 328.7,82.3 330.3,82.3 331.2,85.5 331.8,88.7 332.0,92.0 332.7,95.4 334.5,98.5 336.3,101.0 337.0,104.0 337.1,100.8 337.9,97.8 339.0,94.9 340.0,92.0 340.8,88.8 342.1,85.7 341.8,82.3 343.4,82.3 344.8,84.7 344.3,87.7 346.0,90.0 347.9,88.3 349.7,86.4 350.0,89.7 351.3,92.7 353.6,95.2 354.0,98.5 355.6,98.5 356.5,95.2 356.0,91.6 356.4,88.2 357.7,84.9 359.1,81.7 359.1,78.2 360.7,78.2 361.0,81.2 362.2,84.0 361.4,87.2 362.5,90.0 362.3,93.5 364.2,96.6 364.2,100.0 365.8,100.0 366.5,96.7 367.7,93.6 369.0,90.4 369.0,87.0 368.9,83.7 370.4,80.6 371.8,77.6 371.7,74.2 372.6,71.1 373.3,67.9 373.4,64.6 375.0,64.6 375.4,67.7 376.3,70.6 376.1,73.8 376.7,76.8 377.5,79.8 376.9,83.0 378.3,85.9 378.5,89.0 380.1,89.0 380.4,85.9 381.3,83.0 381.8,79.9 381.5,76.8 383.1,76.8 382.8,80.4 383.8,83.8 385.1,87.1 384.4,90.7 384.8,94.2 385.7,97.6 386.6,101.0 388.2,101.0 389.0,97.6 388.8,94.0 389.1,90.5 389.6,87.1 389.0,83.5 390.4,80.1 391.1,76.6 390.0,73.0 391.5,69.6 391.7,66.1 391.6,62.6 393.2,62.6 394.8,64.8 395.9,67.2 396.0,70.0 398.1,72.5 400.5,74.7 400.5,71.3 401.3,68.1 402.5,64.9 403.1,61.6 403.9,58.4 404.0,55.0 404.4,51.6 404.3,48.1 404.0,44.6 404.5,41.2 404.9,37.7 405.9,34.3 406.6,30.9 405.9,27.4 406.8,24.0 408.4,24.0 409.0,27.0 408.3,30.1 409.7,33.0 409.5,36.1 410.0,39.0 410.3,42.0 411.0,45.0 411.6,48.1 412.0,51.2 412.2,54.3 413.8,57.2 413.1,60.5 413.4,63.6 414.7,66.6 416.0,69.6 416.1,72.7 416.3,75.7 417.0,78.8 417.3,81.8 417.0,85.0 418.6,85.0 419.1,81.7 418.2,78.3 418.3,75.0 420.2,71.8 419.3,68.4 419.7,65.1 419.8,61.8 420.0,58.5 421.6,58.5 422.5,61.3 422.9,64.2 424.0,67.0 424.0,70.0 424.6,73.2 426.1,76.3 427.1,79.4 427.2,82.8 428.8,82.8 428.4,79.5 429.0,76.3 430.2,73.1 429.8,69.9 430.7,66.7 429.7,63.3 429.7,60.1 430.7,56.9 429.9,53.6 430.7,50.4 432.3,50.4 431.4,53.7 432.8,57.0 433.2,60.2 433.3,63.5 433.4,66.8 432.2,70.2 432.2,73.5 433.2,76.7 433.5,80.0 435.4,82.0 437.2,84.0 438.5,86.3 439.2,89.0 440.8,89.0 440.7,85.8 441.8,82.6 442.1,79.4 442.9,76.3 443.2,73.1 442.6,69.8 443.2,66.6 444.8,66.6 446.0,68.8 447.8,70.6 449.2,72.7 450.8,72.7 452.0,69.8 451.8,66.5 454.1,63.8 453.1,60.3 455.0,57.6 455.6,54.5 457.2,54.5 457.9,57.6 457.5,61.0 459.3,64.0 458.3,67.4 460.5,70.3 459.5,73.7 460.4,76.8 462.8,77.2 465.1,76.8 467.5,76.8 467.2,73.3 468.0,70.0 468.5,66.6 468.4,63.2 468.7,59.8 469.7,56.5 471.3,56.5 470.9,59.9 471.7,63.3 472.5,66.6 472.0,70.1 472.3,73.4 472.8,76.8 474.4,76.8 474.4,73.4 475.9,70.3 476.6,67.1 476.4,63.6 477.8,60.5 479.4,60.5 480.1,63.6 479.2,66.9 480.1,70.0 481.1,73.1 481.0,76.3 481.1,79.5 480.9,82.7 480.9,85.9 481.9,89.0 483.5,89.0 483.1,85.7 483.4,82.5 484.6,79.5 484.2,76.2 484.9,73.1 486.0,70.0 485.7,66.9 486.2,64.0 487.7,61.2 487.2,58.1 488.6,55.4 489.0,52.4 490.6,52.4 491.2,55.5 494.2,57.5 495.0,60.5 497.8,62.0 501.0,62.6 503.0,64.0" fill="none" stroke="#118acb" stroke-width="6.3" stroke-linejoin="round" stroke-linecap="butt"/>
<polyline clip-path="url(#cBL)" points="80.0,460.0 82.5,462.0 85.0,464.0 86.7,461.3 88.3,458.7 90.0,456.0 91.7,458.0 93.3,460.0 95.0,462.0 96.7,460.0 98.3,458.0 100.0,456.0 102.5,454.0 105.0,452.0 106.0,455.2 107.0,458.4 108.0,461.6 109.0,464.8 110.0,468.0 110.8,471.2 111.6,474.4 112.4,477.6 113.2,480.8 114.0,484.0 114.8,486.8 115.5,489.5 116.2,492.2 117.0,495.0 117.9,497.5 118.8,500.0 119.7,502.5 120.6,505.0 120.9,508.5 121.2,512.0 121.5,515.5 121.9,519.0 122.2,522.5 122.5,526.0 125.0,527.0 125.8,529.8 126.5,532.5 127.2,535.2 128.0,538.0 129.3,540.3 130.5,542.7 132.0,545.0 134.1,542.5 137.0,541.0 138.2,543.6 140.2,545.6 142.7,547.0 145.5,545.0 146.4,547.7 146.9,550.5 148.6,552.9 149.4,555.6 149.7,558.5 151.1,558.5 152.4,555.7 154.7,553.6 156.0,550.8 157.5,547.8 160.7,546.2 162.0,543.0 163.8,540.3 166.7,539.0 166.8,535.5 167.2,532.0 169.2,528.9 169.1,525.3 170.0,522.0 170.8,518.6 171.4,515.2 172.9,511.9 173.5,508.5 176.5,508.5 177.2,511.6 178.0,514.7 178.1,517.9 178.8,520.9 179.6,524.0 178.7,527.3 179.5,530.4 180.3,533.5 181.7,533.5 182.4,530.5 183.2,527.4 182.6,524.2 183.0,521.1 183.5,518.1 184.0,515.0 184.3,512.1 185.3,509.4 184.4,506.3 185.8,503.6 186.3,500.8 187.7,500.8 188.7,504.0 190.1,507.1 190.8,510.4 192.1,513.6 191.2,517.1 192.9,520.3 192.2,523.7 193.4,526.9 194.0,530.2 194.1,533.6 193.9,537.0 195.3,537.0 194.8,533.5 195.3,530.1 196.7,526.8 197.1,523.4 197.0,520.0 197.2,517.1 198.2,514.3 198.2,511.4 198.7,508.5 200.1,508.5 200.7,511.0 200.6,513.7 202.0,516.0 203.3,517.3 204.0,519.0 205.5,516.4 205.8,513.5 206.6,510.7 206.0,507.5 207.7,505.0 208.9,503.3 211.0,503.0 212.3,501.4 214.4,501.5 214.7,498.4 216.4,495.5 216.8,492.4 217.3,489.3 216.4,486.0 218.1,483.1 218.3,480.0 219.7,480.0 220.0,483.3 220.8,486.5 221.7,489.6 223.8,492.5 224.0,495.8 225.2,493.4 227.8,492.3 229.0,490.0 229.2,493.4 229.6,496.7 231.2,499.8 231.0,503.3 233.2,506.3 232.3,509.9 233.9,513.0 235.3,513.0 236.7,509.9 236.3,506.4 236.5,503.1 238.0,500.0 239.1,497.4 240.4,494.8 241.0,492.0 241.6,488.9 241.9,485.8 243.2,482.9 244.5,480.0 246.5,477.1 247.3,473.7 248.7,473.7 250.1,476.8 249.0,480.4 250.9,483.4 251.5,486.6 251.5,490.0 252.9,492.8 251.9,496.2 252.7,499.2 254.5,501.9 254.8,505.0 256.0,503.3 258.0,503.0 259.9,502.5 261.5,501.5 263.1,498.6 262.4,495.0 264.5,492.3 265.8,489.3 266.0,486.0 267.7,483.5 269.6,481.1 271.3,478.5 272.7,478.5 272.8,481.7 274.6,484.6 275.3,487.7 275.3,491.0 276.3,494.0 277.7,494.0 278.2,490.7 278.6,487.3 279.0,484.0 280.2,481.8 282.0,480.0 284.1,480.1 285.6,478.5 286.5,481.3 286.2,484.3 286.2,487.3 287.5,490.0" fill="none" stroke="#000000" stroke-width="6.3" stroke-linejoin="round" stroke-linecap="butt"/>
<polyline clip-path="url(#cBR)" points="297.0,472.6 297.2,475.8 297.5,479.1 297.8,482.3 298.0,485.5 298.2,488.8 298.5,492.0 299.0,489.2 299.5,486.4 300.0,483.6 300.5,480.8 301.0,478.0 302.0,474.7 303.0,471.3 304.0,468.0 305.5,471.0 307.0,474.0 307.8,471.0 308.5,468.0 309.2,465.0 310.0,462.0 311.1,459.4 312.2,456.9 313.3,454.3 314.0,457.0 314.6,459.6 315.3,462.3 316.0,465.0 317.7,467.8 319.4,470.5 320.2,467.7 321.0,464.8 321.8,462.0 324.2,462.0 325.6,464.8 325.4,468.1 326.9,470.8 327.0,474.0 329.1,472.6 330.6,470.5 332.2,471.4 334.0,472.0 335.7,469.1 337.7,466.5 338.6,469.1 339.8,471.6 341.0,474.0 342.3,471.6 344.8,470.5 345.9,467.7 347.2,464.9 348.0,462.0 350.0,459.2 351.9,456.4 352.2,459.8 353.5,462.9 355.0,466.0 356.2,468.8 357.5,471.6 358.0,474.6 359.4,471.4 362.0,469.0 363.9,467.0 364.7,464.4 366.0,467.4 368.0,470.0 370.1,469.2 372.0,468.0 374.1,469.9 376.0,472.0 376.8,469.3 377.1,466.5 378.5,464.0 379.3,461.3 381.7,461.3 382.8,464.1 382.2,467.1 382.8,470.0 385.2,470.0 386.4,467.4 387.4,464.8 388.0,462.0 388.5,459.3 389.2,456.7 390.7,454.4 392.0,452.0 393.4,449.4 394.1,446.6 395.1,443.9 397.5,443.9 397.5,447.2 398.6,450.3 399.2,453.5 398.7,456.9 400.0,460.0 401.3,463.2 401.9,466.6 401.8,470.0 402.4,473.4 403.5,476.6 404.0,480.0 404.8,483.0 405.9,486.0 406.3,489.1 407.5,492.0 408.3,495.2 410.5,497.6 411.6,494.8 411.6,491.8 411.7,488.8 413.1,486.0 412.5,482.9 413.0,480.0 413.7,476.7 414.7,473.4 414.9,470.1 414.8,466.6 416.0,463.4 416.0,460.0 416.8,457.1 418.0,454.4 418.0,451.3 418.5,448.4 419.0,445.5 419.7,448.3 422.0,450.0 422.3,452.9 423.0,455.7 422.3,458.8 422.7,461.6 424.0,464.4 425.6,466.8 426.8,469.4 426.3,472.6 428.0,475.0 430.6,473.0 432.0,470.0 433.8,467.8 436.0,466.0 438.3,467.7 440.0,470.0 441.7,467.5 443.5,465.1 444.0,462.0 445.2,459.3 447.2,457.3 449.0,455.0 450.7,457.7 453.0,460.0 454.5,457.8 456.8,456.5 459.0,459.1 461.0,462.0 461.9,459.6 464.0,458.0 466.0,457.2 468.0,456.5 470.4,457.8 472.0,460.0 472.6,457.0 474.5,454.6 476.0,452.0 476.9,449.1 479.0,447.0 479.3,443.8 480.3,440.8 482.0,438.0 482.3,435.6 482.6,433.3 483.4,431.0 485.4,431.0 485.3,433.9 486.2,436.6 486.9,439.3 487.3,442.1 487.0,445.0 488.1,448.2 488.0,451.6 489.8,454.6 490.0,458.0 491.4,460.3 492.1,463.0 494.0,465.0 494.4,467.7 496.1,470.0 496.4,472.8 498.0,475.0 498.7,477.6 500.4,479.8 501.6,482.2 501.8,485.0 501.8,482.3 503.0,480.0" fill="none" stroke="#000000" stroke-width="6.3" stroke-linejoin="round" stroke-linecap="butt"/>
<polyline clip-path="url(#cBL)" points="80.0,486.0 81.0,487.5 82.0,489.0 84.0,490.0 84.8,487.3 85.7,484.7 86.5,482.0 87.3,479.3 88.2,476.7 89.0,474.0 90.0,471.0 91.0,468.0 92.0,465.0 93.5,467.5 95.0,470.0 96.0,467.3 97.0,464.7 98.0,462.0 99.0,459.7 100.0,457.3 101.0,455.0 102.1,452.5 103.3,450.0 104.4,447.5 105.7,449.8 107.0,452.0 108.0,455.3 109.0,458.7 110.0,462.0 111.0,465.3 112.0,468.7 113.0,472.0 113.8,475.3 114.7,478.7 115.5,482.0 116.0,485.3 116.5,488.7 117.0,492.0 117.6,495.3 118.1,498.7 118.6,502.0 118.9,505.3 119.3,508.6 119.6,511.9 120.0,515.1 120.3,518.4 120.7,521.7 121.0,525.0 121.4,528.0 121.7,531.0 122.1,534.0 122.4,537.0 122.8,540.0 123.1,543.0 123.5,546.0 124.8,543.0 126.0,540.0 127.5,538.5 129.0,537.0 129.3,540.3 129.7,543.7 130.0,547.0 130.9,550.3 131.3,553.6 131.0,557.0 131.7,560.0 132.7,563.0 132.7,566.2 133.8,569.1 133.4,572.3 133.9,575.4 134.8,578.4 135.0,581.5 136.0,583.7 138.0,585.0 140.8,587.0 142.5,585.2 145.0,585.0 145.0,587.8 147.0,590.0 148.4,592.3 148.7,595.0 150.1,595.0 150.2,592.0 150.5,589.0 150.0,585.9 151.6,583.0 151.5,580.0 152.1,577.2 152.4,574.4 152.9,571.6 153.7,568.9 153.3,566.0 155.2,567.0 157.0,568.0 157.6,571.4 157.5,575.0 158.2,578.3 160.3,581.5 160.3,585.0 161.7,585.0 161.3,581.7 163.3,578.8 163.1,575.5 162.3,572.2 163.0,569.1 164.0,566.0 164.3,563.1 165.2,560.2 165.5,557.3 166.3,554.4 167.4,551.7 168.0,548.8 169.4,548.8 168.9,551.9 169.6,554.9 169.4,558.0 171.6,560.8 171.3,563.9 170.4,567.0 171.5,570.0 171.6,573.3 172.5,576.5 172.9,579.8 172.1,583.1 172.1,586.4 173.1,589.6 173.2,592.9 173.6,596.2 173.9,599.5 174.7,602.7 176.1,602.7 176.3,599.4 177.3,596.3 177.2,593.0 178.0,589.8 178.3,586.6 177.3,583.2 178.0,580.0 178.4,577.2 178.6,574.4 178.4,571.5 179.2,568.7 180.0,566.0 182.6,564.9 184.0,562.3 185.0,565.5 186.3,568.6 186.3,572.0 187.7,572.0 187.9,568.9 188.5,565.8 189.2,562.8 188.5,559.6 189.1,556.5 190.5,556.5 191.1,559.1 192.6,561.3 193.0,564.0 194.4,564.0 195.6,560.6 194.7,557.0 195.6,553.5 196.0,550.0 195.8,546.5 195.6,543.0 197.4,545.5 199.0,548.0 201.5,550.0 202.4,546.8 202.6,543.4 203.3,540.2 204.3,537.0 203.6,533.5 204.0,530.2 204.8,527.0 205.8,523.8 207.5,521.0 209.0,519.0 210.6,517.0 211.5,519.4 213.8,520.8 215.0,523.0 217.0,524.8 219.0,526.5 219.1,529.7 221.5,532.1 222.7,534.9 223.0,538.0 224.7,540.7 224.2,543.9 226.3,546.5 226.3,549.6 227.7,549.6 228.0,546.6 229.2,543.8 229.3,540.8 230.0,537.9 230.5,535.0 231.3,532.0 230.8,528.7 232.6,525.8 233.0,522.7 234.4,522.7 234.8,525.8 234.9,529.0 236.7,531.9 237.2,535.0 238.0,538.0 239.7,540.9 239.9,544.1 241.4,547.1 241.3,550.4 242.3,553.5 243.7,553.5 243.4,550.3 245.0,547.4 244.3,544.2 244.6,541.1 245.4,538.1 246.0,535.0 247.1,532.3 246.7,529.3 248.3,526.6 248.2,523.7 248.3,520.8 249.7,520.8 250.9,523.7 250.3,527.0 252.1,529.8 252.0,533.0 252.1,535.8 253.0,538.4 253.4,541.1 254.1,543.8 255.5,543.8 256.9,541.3 256.9,538.4 257.2,535.7 258.0,533.0 258.8,530.0 260.5,527.5 261.5,524.6 263.5,522.3 264.7,519.5 266.3,517.0 266.9,513.7 267.5,510.4 267.4,507.0 266.9,503.6 268.4,500.4 268.5,497.0 267.9,493.8 268.8,490.8 269.5,487.8 269.5,484.7 270.7,481.7 270.3,478.5 271.7,478.5 272.6,481.7 272.5,485.0 272.3,488.3 273.1,491.5 274.0,494.7 274.0,498.0 273.8,501.3 274.2,504.5 275.3,507.5 275.1,510.8 275.6,514.0 277.0,517.0 278.8,519.4 280.9,521.6 281.7,524.6 283.1,527.6 282.4,531.1 284.0,534.0 284.4,537.4 286.6,540.3 286.5,543.8 287.5,542.0 287.5,540.0" fill="none" stroke="#df0030" stroke-width="6.3" stroke-linejoin="round" stroke-linecap="butt"/>
<polyline clip-path="url(#cBR)" points="297.0,488.8 297.2,492.1 297.4,495.4 297.5,498.7 297.7,502.0 297.9,505.3 298.1,508.5 298.3,511.8 298.5,515.1 298.6,518.4 298.8,521.7 299.0,525.0 299.2,521.9 299.5,518.8 299.8,515.6 300.0,512.5 300.2,509.4 300.5,506.2 300.8,503.1 301.0,500.0 301.3,497.0 301.6,493.9 301.9,490.9 302.3,487.8 302.6,484.8 302.9,481.7 303.2,478.7 305.8,480.7 308.3,482.7 310.0,480.7 311.6,478.6 313.3,476.6 314.3,479.7 315.4,482.7 316.4,485.8 317.4,488.8 318.2,485.6 318.9,482.4 319.7,479.2 320.5,476.0 320.9,473.1 321.4,470.2 321.9,467.4 322.3,464.5 324.3,464.5 324.2,467.9 325.5,471.2 326.0,474.6 325.5,478.0 326.0,480.9 325.4,484.0 326.6,486.8 325.7,489.9 326.7,492.8 328.7,492.8 329.8,489.6 330.6,486.3 331.5,483.0 332.7,480.3 333.6,477.4 334.4,474.6 336.8,474.6 337.2,477.7 337.0,480.8 337.7,483.8 338.5,486.8 340.9,486.8 341.7,483.9 341.5,480.6 342.7,477.8 344.0,475.0 344.2,471.6 346.5,468.9 347.6,465.8 347.6,462.4 350.0,462.4 350.7,465.3 350.5,468.3 352.4,471.0 352.0,474.0 352.1,476.9 354.3,479.1 353.6,482.2 354.9,484.7 357.1,482.9 359.0,480.7 360.8,478.3 361.7,475.6 362.3,472.6 363.5,470.0 364.3,467.0 366.0,464.6 368.0,462.4 369.3,460.1 369.5,457.5 369.8,455.0 372.2,455.0 374.1,458.1 373.5,461.8 375.0,465.0 377.7,467.0 379.0,470.0 378.7,467.2 381.1,465.1 381.8,462.5 381.7,459.7 384.1,459.7 385.1,462.2 385.0,465.0 386.8,467.3 387.0,470.0 389.5,472.1 391.0,475.0 392.5,471.9 392.6,468.4 393.2,465.0 395.0,462.0 396.8,459.4 397.2,456.3 398.2,453.4 400.6,453.4 400.5,456.8 400.8,460.1 401.7,463.4 403.3,466.6 403.0,470.0 404.8,472.2 404.9,475.3 406.7,477.5 408.0,480.0 409.2,477.9 411.7,477.0 413.0,475.0 415.0,472.9 415.2,469.7 417.2,467.6 419.6,467.6 420.3,470.1 420.3,472.8 422.0,475.0 423.4,472.0 426.0,470.0 427.3,467.1 427.4,464.0 428.9,461.1 428.4,457.8 430.0,455.0 430.8,451.8 430.9,448.5 431.4,445.2 433.5,442.3 433.6,439.0 436.0,439.0 437.8,442.0 438.7,445.3 438.3,449.0 440.0,452.0 442.2,454.3 442.5,457.8 445.0,460.0 447.1,461.4 449.0,463.0 449.2,466.4 449.8,469.8 450.9,473.1 451.3,476.6 451.5,480.0 452.1,482.9 452.6,485.8 452.4,488.8 452.0,491.8 453.5,494.6 452.8,497.6 454.9,497.6 454.5,494.3 455.5,491.2 456.4,488.1 457.0,485.0 457.7,482.3 458.9,479.9 461.0,478.0 461.5,474.9 464.2,472.9 465.0,470.0 466.6,467.5 466.8,464.2 469.0,462.0 470.2,458.8 472.6,456.5 474.1,459.7 473.9,463.4 475.3,466.6 476.0,470.0 477.7,472.4 477.9,475.3 478.8,478.0 481.2,478.0 483.0,475.6 483.2,472.7 484.0,470.0 485.3,473.1 488.0,475.0 488.8,471.7 490.3,468.6 491.2,465.3 492.0,462.0 493.0,459.1 494.2,456.2 494.0,452.9 494.3,449.8 495.8,447.0 498.0,447.0 498.2,450.0 498.5,453.0 499.0,456.0 498.2,459.1 500.2,461.9 499.5,465.0 499.3,468.1 499.5,471.2 500.3,474.2 500.0,477.3 499.8,480.4 500.4,483.4 500.9,486.5 502.3,486.5 503.4,483.3 503.0,480.0" fill="none" stroke="#df0030" stroke-width="6.3" stroke-linejoin="round" stroke-linecap="butt"/>
<polyline clip-path="url(#cBL)" points="80.0,445.0 81.3,447.3 82.7,449.7 84.0,452.0 86.0,450.0 88.0,448.0 88.7,450.3 89.3,452.7 90.0,455.0 90.8,458.0 91.6,461.0 92.4,464.0 93.2,467.0 94.0,470.0 95.1,473.3 96.2,476.7 97.3,480.0 98.0,477.0 98.7,474.0 99.3,471.0 100.0,468.0 101.0,465.3 102.0,462.7 103.0,460.0 104.5,459.0 106.0,458.0 106.8,461.0 107.5,464.0 108.2,467.0 109.0,470.0 109.5,473.0 110.0,476.0 110.5,479.0 111.0,482.0 111.5,485.0 112.0,488.0 112.6,491.4 113.2,494.8 113.8,498.2 114.4,501.6 115.0,505.0 115.5,508.3 116.0,511.7 116.5,515.0 117.0,518.3 117.5,521.7 118.0,525.0 118.5,528.3 119.0,531.7 119.5,535.0 120.0,538.3 120.5,541.7 121.0,545.0 121.6,548.4 122.2,551.8 122.8,555.2 123.4,558.6 124.0,562.0 124.6,565.2 125.2,568.5 125.9,571.8 126.5,575.0 127.3,578.3 128.2,581.7 129.0,585.0 129.6,588.0 130.0,591.0 131.4,593.9 130.5,597.2 132.0,600.0 131.6,602.9 133.0,605.6 133.1,608.5 134.4,611.1 134.3,614.0 135.7,614.0 135.9,611.0 136.8,608.2 138.4,605.6 138.8,602.7 139.3,599.9 141.8,597.9 142.0,595.0 143.4,595.0 144.7,597.9 144.8,600.9 145.4,603.9 145.0,607.0 145.1,610.4 146.5,613.4 146.9,616.7 147.5,620.0 149.3,622.7 150.4,625.8 152.7,625.2 154.8,624.0 155.8,626.4 157.0,628.8 157.3,631.5 158.7,631.5 159.4,628.4 160.0,625.2 160.5,622.0 162.8,619.3 163.0,616.0 164.5,614.2 165.7,612.2 166.7,610.0 166.6,613.1 168.3,615.9 169.0,618.8 169.6,621.8 170.3,624.7 170.8,627.7 172.2,627.7 173.9,625.3 174.1,622.1 176.3,620.0 177.2,617.1 178.2,614.3 178.8,611.3 180.0,608.5 182.8,608.6 185.0,610.4 185.8,607.1 184.9,603.6 186.5,600.4 186.1,596.9 186.3,593.6 187.0,590.3 188.1,587.0 189.5,587.0 191.4,589.2 192.2,591.7 192.3,594.6 193.7,597.0 193.6,600.5 194.6,603.8 194.3,607.3 195.0,610.6 195.3,614.1 194.8,617.5 196.3,620.8 195.5,624.4 196.5,627.7 199.3,629.0 202.3,629.6 204.7,628.1 206.7,626.0 206.9,623.0 208.1,620.3 210.0,618.0 209.6,614.8 210.7,611.9 211.5,609.0 213.0,606.4 213.4,603.6 213.9,600.7 213.1,597.6 214.4,595.0 217.1,594.4 219.5,593.0 219.9,596.0 220.7,598.9 221.7,601.7 223.9,604.1 224.7,607.0 225.0,610.0 225.1,613.3 225.9,616.4 226.3,619.6 227.8,622.5 227.7,625.9 229.8,628.7 229.8,632.0 232.2,631.8 233.7,630.0 234.8,626.6 234.1,623.1 233.9,619.6 235.2,616.2 235.8,612.8 235.5,609.3 235.2,605.8 236.0,602.4 236.8,599.0 238.2,599.0 238.2,602.5 240.2,605.7 239.1,609.4 240.6,612.7 242.0,612.7 242.5,609.4 243.4,606.1 244.3,602.9 246.9,600.2 247.8,596.9 248.0,593.5 249.4,591.3 250.7,589.1 253.0,587.7 255.0,589.9 256.9,592.1 259.6,593.5 262.8,593.5 265.4,595.4 268.7,595.7 272.0,595.4 273.7,592.8 274.1,589.7 275.4,586.9 276.3,584.0 277.7,584.0 278.2,586.7 280.2,588.8 280.8,591.5 282.0,594.3 282.0,597.3 283.0,600.2 283.9,603.0 285.2,603.0 285.4,599.8 285.2,596.5 286.7,593.3 286.0,590.0 285.8,586.8 286.7,583.8 287.3,580.7 286.6,577.5 286.0,574.3 286.6,571.2 286.4,568.1 287.5,565.0" fill="none" stroke="#118acb" stroke-width="6.3" stroke-linejoin="round" stroke-linecap="butt"/>
<polyline clip-path="url(#cBR)" points="297.0,529.3 297.0,532.8 297.0,536.3 297.0,539.8 297.0,543.3 297.0,546.9 297.0,550.4 297.0,553.9 297.0,557.4 297.0,560.9 297.0,564.4 297.0,567.9 297.0,571.4 297.0,574.9 297.0,578.4 297.0,582.0 297.0,585.5 297.0,589.0 297.0,592.5 297.0,596.0 297.3,592.8 297.6,589.5 297.9,586.2 298.2,583.0 298.6,579.8 298.9,576.5 299.2,573.2 299.5,570.0 299.9,566.5 300.2,563.0 300.6,559.5 300.9,556.0 301.3,552.5 301.6,549.0 302.0,545.5 302.5,542.6 303.0,539.7 303.5,536.8 304.0,533.8 304.5,530.9 305.0,528.0 305.7,524.6 306.3,521.2 307.0,517.8 307.6,514.4 308.3,511.0 309.1,508.0 309.8,505.0 310.6,502.0 311.3,499.0 313.9,496.9 316.4,494.9 317.2,498.2 318.1,501.6 318.9,504.9 319.7,508.3 320.6,511.6 321.4,515.0 322.4,512.0 323.4,509.0 323.8,505.8 325.5,503.0 327.2,500.1 328.0,496.6 330.5,494.0 331.6,490.8 333.7,490.0 335.6,488.8 336.4,485.7 337.8,482.8 338.7,479.7 339.5,476.6 341.9,476.6 343.3,479.3 342.9,482.3 343.3,485.2 344.0,488.0 344.6,490.8 347.0,490.8 349.5,489.3 351.3,487.1 352.9,484.7 354.8,482.2 357.0,480.0 358.6,477.9 361.0,476.6 363.6,478.9 365.0,482.0 366.6,479.1 367.4,475.8 368.0,472.6 369.8,475.4 372.0,478.0 373.7,475.9 375.6,474.0 377.4,472.0 378.8,475.1 379.0,478.5 380.6,481.6 380.8,485.0 383.2,485.0 384.0,482.7 384.5,480.4 384.8,478.0 387.2,478.0 387.4,481.4 388.8,484.6 388.8,488.0 391.2,488.0 391.1,484.6 392.3,481.4 393.7,478.3 394.0,475.0 395.1,472.4 396.6,469.9 397.0,467.0 398.2,464.4 400.6,464.4 401.4,467.8 401.0,471.3 403.1,474.5 403.0,478.0 404.6,480.8 404.8,484.1 405.8,487.1 407.0,490.0 408.1,492.3 408.9,494.7 410.0,497.0 410.9,499.3 411.3,501.7 412.4,503.9 414.8,503.9 416.1,501.1 416.5,498.1 416.7,495.0 417.0,492.0 417.9,489.0 419.8,486.3 419.9,483.0 421.0,480.0 422.3,477.4 423.9,474.9 424.3,472.0 426.7,472.0 427.1,475.4 428.4,478.6 429.0,482.0 430.7,480.3 431.8,478.1 433.0,476.0 433.2,478.6 434.6,480.8 435.8,483.0 438.2,483.0 439.0,479.8 440.5,476.7 440.4,473.3 441.0,470.0 441.4,467.6 443.0,465.5 442.8,462.9 445.2,462.9 444.7,466.4 446.6,469.7 447.1,473.1 445.9,476.7 447.0,480.0 446.5,483.0 447.8,485.8 448.3,488.8 447.7,491.8 447.5,494.7 448.6,497.6 450.9,497.6 451.0,494.3 452.2,491.2 453.0,488.0 454.3,484.8 454.5,481.3 455.8,478.2 457.0,475.0 457.3,471.5 459.0,468.3 460.0,465.0 460.1,462.5 460.4,460.1 461.8,458.0 464.2,458.0 465.3,460.6 466.7,463.1 467.0,466.0 470.0,466.1 472.6,467.6 474.3,469.9 475.0,472.7 476.2,475.3 477.0,478.0 479.0,476.3 480.2,473.9 482.0,472.0 484.1,474.4 485.9,477.0 487.0,480.0 488.6,482.0 489.1,484.6 490.8,486.5 493.2,486.5 493.6,483.5 495.0,480.8 496.0,478.0 497.6,480.4 500.0,482.0 502.0,480.4 503.0,478.0" fill="none" stroke="#118acb" stroke-width="6.3" stroke-linejoin="round" stroke-linecap="butt"/>
<polyline clip-path="url(#cBL)" points="80.0,441.0 81.5,439.0 83.0,437.0 84.5,436.0 86.0,435.0 87.3,437.0 88.7,439.0 90.0,441.0 90.6,444.3 91.2,447.6 91.8,451.0 92.4,454.3 93.0,457.6 94.4,455.6 95.9,453.5 97.3,451.5 98.6,454.2 100.0,456.9 101.3,459.6 103.0,456.9 104.7,454.2 106.4,451.5 107.0,454.7 107.6,458.0 108.2,461.2 108.8,464.5 109.4,467.7 109.8,470.9 110.3,474.1 110.7,477.3 111.2,480.4 111.6,483.6 112.1,486.8 112.5,490.0 113.0,493.3 113.5,496.6 114.0,499.9 114.5,503.2 115.0,506.5 115.5,509.8 116.0,513.1 116.5,516.4 117.0,519.8 117.5,523.1 118.0,526.5 118.6,529.9 119.1,533.2 119.6,536.6 120.0,539.8 120.5,542.9 120.9,546.1 121.4,549.2 121.8,552.4 122.3,555.5 122.7,558.7 123.2,561.8 123.6,565.0 123.9,568.2 124.3,571.3 124.6,574.5 125.0,577.6 125.3,580.8 125.7,583.9 126.0,587.1 126.4,590.2 126.7,593.4 127.3,596.2 127.8,599.0 128.4,601.8 129.0,604.6 129.7,607.1 129.9,609.6 131.0,612.0 131.0,615.2 133.4,617.8 132.4,621.2 134.0,624.0 135.0,625.0 134.9,628.6 137.0,631.8 136.1,635.5 136.7,638.9 137.9,642.3 138.9,639.3 141.0,637.0 143.0,636.5 143.7,634.6 146.0,633.4 148.5,632.7 149.5,635.5 150.0,638.4 150.8,641.3 152.0,644.0 152.6,647.4 154.6,650.4 155.3,653.8 156.7,653.8 157.7,651.3 158.2,648.6 159.5,646.3 161.0,644.0 162.0,640.7 162.2,637.1 164.0,634.0 165.1,631.3 166.7,628.8 166.8,632.3 168.8,635.4 169.0,638.9 169.6,642.3 172.1,642.9 173.5,645.0 175.1,646.9 177.3,648.0 179.0,650.4 179.8,653.2 179.7,656.3 181.2,658.8 182.0,661.5 182.9,664.6 183.8,667.8 185.0,670.8 186.1,673.9 187.0,677.0 188.5,680.2 189.2,683.5 189.9,686.9 190.1,690.4 191.5,690.4 191.8,687.4 192.8,684.5 194.8,681.9 194.3,678.6 195.0,675.7 196.5,673.0 197.2,670.0 198.2,667.1 200.0,664.6 201.7,666.4 204.0,667.0 204.1,669.1 205.8,670.4 206.7,673.2 207.7,675.9 209.9,678.0 211.3,678.0 211.8,675.0 212.1,672.0 212.4,669.0 213.4,666.0 213.5,663.0 213.4,660.1 214.4,657.4 214.5,654.6 215.5,651.8 215.6,649.0 217.0,649.0 217.3,652.2 218.7,655.0 220.7,657.6 221.0,660.8 222.9,662.8 224.7,664.9 227.0,666.5 227.6,669.5 229.2,672.4 229.8,675.4 229.6,678.6 229.9,681.7 231.0,684.7 231.7,687.7 231.9,691.1 232.9,694.4 233.0,697.9 234.8,701.0 234.2,704.6 235.0,708.0 236.9,711.1 236.8,714.6 238.2,714.6 238.2,711.6 238.9,708.7 240.4,705.9 240.7,703.0 241.0,700.0 240.8,696.5 242.8,693.4 242.6,689.9 244.4,686.8 243.9,683.2 245.0,680.0 244.7,676.5 245.7,673.2 246.4,669.8 246.9,666.4 247.5,663.0 247.9,659.9 247.4,656.6 248.1,653.5 248.0,650.3 249.3,647.3 250.7,647.3 251.1,650.2 253.3,652.1 254.9,654.4 255.8,657.0 257.3,659.6 257.3,662.7 259.2,665.2 259.8,668.1 259.6,671.3 260.8,674.0 262.2,674.0 263.3,671.4 264.6,668.9 265.9,666.3 266.0,663.3 267.3,660.8 268.8,658.4 269.9,655.8 270.3,653.0 271.7,653.0 272.3,656.5 274.0,659.5 275.3,662.7 276.7,662.7 277.8,659.9 277.0,656.7 277.9,653.8 279.1,651.0 280.5,651.0 280.7,654.4 281.2,657.8 281.5,661.2 282.3,664.6 282.5,668.0 283.7,671.1 283.4,674.3 283.9,677.4 283.3,680.7 283.9,683.8 285.2,683.8 284.8,680.4 285.9,677.0 285.6,673.6 285.4,670.2 286.0,666.8 286.7,663.4 286.0,660.0 285.9,656.5 285.5,653.0 287.4,649.7 286.4,646.1 287.9,642.8 287.2,639.3 287.5,635.8" fill="none" stroke="#4a9a2b" stroke-width="6.3" stroke-linejoin="round" stroke-linecap="butt"/>
<polyline clip-path="url(#cBR)" points="297.0,630.5 297.1,634.0 297.2,637.4 297.4,640.9 297.5,644.3 297.6,647.8 297.8,651.2 297.9,654.7 298.0,658.2 298.1,661.6 298.2,665.1 298.4,668.5 298.5,672.0 298.9,668.9 299.4,665.7 299.8,662.6 300.2,659.4 300.6,656.3 301.1,653.1 301.5,650.0 301.9,646.8 302.3,643.5 302.8,640.2 303.2,637.0 303.6,633.8 304.0,630.5 304.4,627.1 304.7,623.8 305.1,620.4 305.4,617.0 305.8,613.6 306.1,610.2 306.5,606.9 306.9,603.5 307.2,600.1 307.6,596.8 307.9,593.4 308.3,590.0 308.6,587.0 309.0,584.0 309.3,581.0 309.7,578.0 310.0,575.0 310.4,571.8 310.8,568.6 311.1,565.4 311.5,562.1 311.9,558.9 312.3,555.7 313.0,552.3 313.7,548.9 314.4,545.5 315.0,542.2 315.7,538.8 316.4,535.4 317.6,532.9 318.9,530.3 320.1,527.8 321.4,525.3 322.2,522.0 323.0,518.8 323.9,515.5 324.2,512.1 325.5,509.0 326.7,506.2 328.4,503.7 328.9,500.6 329.5,497.7 330.6,494.9 331.9,493.5 333.6,492.8 335.0,495.5 334.1,498.8 335.3,501.5 337.0,504.1 337.1,507.2 338.0,510.0 338.3,513.1 338.6,516.2 340.5,518.9 341.2,521.9 341.5,525.0 343.9,525.0 343.7,521.9 344.9,519.0 346.0,516.1 346.0,513.1 346.0,510.0 346.3,506.5 347.8,503.3 349.0,500.0 348.9,497.0 349.7,494.2 351.0,491.6 351.7,488.8 354.1,488.8 356.2,490.4 357.7,492.6 358.9,494.9 360.6,492.1 363.0,490.0 365.4,488.3 368.0,486.8 369.1,483.9 368.2,480.8 369.3,477.9 369.2,474.9 369.8,472.0 372.2,472.0 373.0,475.2 373.4,478.5 372.8,481.9 373.1,485.2 373.7,488.5 373.8,491.8 375.0,495.0 375.0,498.3 376.3,501.4 376.8,504.7 376.6,508.0 377.0,511.3 377.1,514.6 377.3,517.9 378.5,521.0 380.9,521.0 381.7,517.6 382.3,514.2 381.9,510.7 382.2,507.2 382.7,503.8 382.3,500.3 383.1,496.9 383.5,493.5 383.0,490.0 383.4,486.9 383.4,483.7 383.9,480.6 384.7,477.5 385.0,474.4 385.2,471.2 385.4,468.1 386.0,465.0 386.8,461.8 387.1,458.4 387.9,455.2 387.4,451.8 389.4,451.8 389.1,454.7 391.4,457.1 391.0,460.0 391.9,463.0 392.0,466.3 393.2,469.2 394.0,472.3 394.3,475.6 395.6,478.7 395.9,482.0 395.6,485.4 396.5,488.6 396.7,491.9 398.0,495.0 397.5,498.4 397.9,501.7 398.4,504.9 398.7,508.2 399.1,511.5 399.4,514.8 400.6,518.0 402.9,518.0 403.2,514.6 403.8,511.3 404.5,508.0 405.1,505.0 406.4,502.1 407.5,499.2 407.3,496.0 408.9,498.2 411.0,500.0 412.9,497.4 415.0,495.0 416.3,492.0 419.0,490.0 419.3,487.2 420.2,484.7 421.3,482.2 423.0,480.0 425.8,481.9 427.0,485.0 427.6,481.9 428.2,478.9 430.3,476.2 429.5,472.8 431.0,470.0 431.2,466.4 433.8,463.6 434.0,460.0 436.4,458.0 437.3,455.0 438.2,457.3 439.0,459.7 440.0,462.0 441.0,464.5 441.5,467.1 442.4,469.6 442.6,472.3 444.5,475.2 443.9,479.0 445.2,482.1 447.0,485.0 448.1,487.8 450.9,489.3 452.0,492.0 454.7,490.2 457.0,488.0 458.8,490.2 458.6,493.2 460.8,495.2 461.0,498.0 462.3,500.1 464.5,501.5 465.5,503.9 467.6,501.3 468.6,498.3 469.0,495.0 470.6,497.4 472.0,500.0 472.0,503.5 473.1,506.8 474.5,510.0 476.6,510.0 476.1,506.6 477.6,503.4 477.8,500.0 476.7,496.6 477.7,493.3 477.2,490.0 476.7,486.6 477.8,483.3 478.0,480.0 477.4,476.8 478.9,473.8 478.7,470.6 477.9,467.4 478.4,464.3 477.8,461.2 478.5,458.1 479.1,454.9 479.0,451.8 480.6,451.8 480.1,455.3 479.9,458.8 480.8,462.2 481.2,465.7 480.5,469.2 481.2,472.6 480.9,476.1 481.9,479.6 481.0,483.1 482.5,486.5 482.0,490.0 482.4,493.4 482.9,496.8 482.8,500.2 482.5,503.6 482.0,507.0 484.0,510.4 483.1,513.8 484.0,517.2 483.0,520.6 483.8,524.0 486.0,524.0 486.6,520.6 487.2,517.3 487.3,513.9 486.8,510.5 486.1,507.1 487.1,503.7 486.7,500.3 486.5,496.9 486.3,493.5 487.9,490.2 487.1,486.8 486.7,483.4 487.5,480.0 487.1,476.7 487.0,473.5 487.0,470.2 488.5,467.0 488.0,463.7 487.8,460.4 488.0,457.2 488.0,453.9 488.6,450.6 488.8,447.4 487.9,444.1 488.7,440.9 489.0,437.6 491.2,437.6 490.8,440.6 491.5,443.4 492.3,446.2 492.8,449.1 493.0,452.0 494.1,455.0 495.2,458.0 495.6,461.2 496.0,464.4 496.9,461.8 499.0,460.0 499.7,457.7 501.8,456.5 503.0,458.0" fill="none" stroke="#4a9a2b" stroke-width="6.3" stroke-linejoin="round" stroke-linecap="butt"/>
<polyline clip-path="url(#cBL)" points="80.0,461.6 82.5,463.6 85.0,465.6 86.0,462.2 87.0,458.9 88.0,455.5 89.5,457.8 91.0,460.0 92.5,461.8 94.0,463.6 96.1,466.3 98.2,469.1 100.3,471.8 101.1,474.9 101.9,477.9 102.7,480.9 103.5,484.0 104.8,486.7 106.2,489.3 107.5,492.0 106.8,495.3 106.2,498.7 105.5,502.0 107.2,505.0 108.8,508.0 110.5,511.0 109.9,514.3 109.4,517.7 108.8,521.0 109.9,523.5 111.0,526.0 112.1,528.5 113.2,531.0 112.8,533.8 112.5,536.5 112.2,539.2 111.8,542.0 113.1,545.0 114.5,548.0 115.8,551.0 115.5,553.8 115.2,556.5 114.9,559.2 114.6,562.0 115.5,564.5 116.4,567.0 117.3,569.5 118.2,572.0 118.0,574.8 117.8,577.5 117.5,580.2 117.3,583.0 118.2,585.5 119.0,588.0 119.9,590.5 120.8,593.0 120.7,596.3 120.6,599.7 120.5,603.0 121.3,606.3 122.2,609.7 123.0,613.0 123.4,616.2 123.8,619.3 124.2,622.5 124.6,625.6 125.0,628.8 125.3,631.6 125.6,634.5 125.9,637.3 126.2,640.2 126.5,643.0 128.0,641.5 129.5,640.0 129.7,643.0 129.9,646.0 130.6,649.0 131.1,651.9 130.5,655.0 132.4,653.2 133.8,651.0 134.6,654.0 134.1,657.0 135.3,659.9 134.0,663.1 135.2,666.0 137.2,663.7 138.6,661.0 139.4,664.5 140.2,667.9 139.0,671.6 140.0,675.0 141.9,677.2 144.6,678.0 145.6,674.7 146.4,671.4 149.3,668.9 149.7,665.4 151.1,665.4 151.6,668.6 153.6,671.2 155.5,673.8 156.0,677.0 156.6,679.9 157.2,682.7 159.5,684.9 160.5,687.6 161.3,690.4 162.7,690.4 164.8,687.5 166.0,684.2 167.0,680.8 168.4,680.8 167.9,684.0 168.8,687.1 169.8,690.1 168.7,693.4 169.3,696.5 169.5,699.6 170.8,702.6 170.8,705.8 172.2,705.8 172.0,702.5 173.6,699.4 173.7,696.2 172.3,692.8 172.5,689.6 172.8,686.4 174.1,683.2 174.0,680.0 173.7,676.8 173.8,673.6 174.7,670.4 175.8,667.3 175.1,664.1 174.5,660.8 175.6,657.7 177.0,657.7 179.3,660.5 180.7,663.7 182.0,667.0 183.9,668.8 185.8,670.6 187.0,673.0 187.1,670.0 188.4,667.4 189.1,664.6 190.5,662.0 190.8,658.5 191.4,655.1 193.0,652.0 194.4,652.0 194.8,655.1 194.9,658.3 196.2,661.3 197.2,664.4 197.1,667.6 198.3,670.6 198.7,673.8 198.5,677.0 199.3,680.1 198.4,683.4 200.4,686.4 199.9,689.7 201.1,692.7 200.5,696.0 201.1,699.4 200.1,703.0 200.7,706.4 201.7,709.8 202.4,713.2 202.7,716.6 202.4,720.1 202.9,723.5 203.1,727.0 204.5,727.0 204.5,723.7 204.6,720.4 206.6,717.3 206.5,714.0 208.2,711.5 208.9,708.8 208.8,705.8 209.6,703.0 210.3,700.4 210.6,697.8 213.1,695.8 213.0,693.0 213.7,689.9 213.9,686.6 215.6,683.8 217.0,683.8 216.3,686.9 217.2,689.9 217.3,692.9 217.9,695.9 218.8,698.9 218.5,702.0 218.2,705.1 218.6,708.2 219.4,711.2 218.8,714.4 220.6,717.3 220.3,720.4 221.7,720.4 223.1,717.7 222.8,714.7 222.3,711.7 223.5,709.0 225.0,705.8 225.9,702.5 226.0,699.0 227.1,695.8 226.8,692.4 227.5,689.2 228.0,685.9 228.6,682.6 228.5,679.3 229.1,676.0 230.5,676.0 232.2,678.7 232.9,681.7 233.8,684.7 234.6,687.7 237.0,685.0 240.4,683.8 241.5,686.9 241.0,690.3 241.8,693.4 242.9,696.5 242.1,699.9 243.3,703.0 244.5,700.4 247.0,699.0 248.3,696.5 251.0,695.4 251.0,698.9 250.8,702.4 251.1,705.8 251.8,709.3 252.5,712.7 253.2,716.1 252.1,719.7 252.9,723.1 254.1,726.5 253.8,730.0 253.9,733.6 254.9,736.9 255.3,740.3 257.0,743.5 258.4,743.5 258.9,740.1 259.8,736.7 260.9,733.4 261.5,730.0 262.8,727.7 264.4,725.7 266.3,724.0 267.6,721.1 267.8,718.1 268.4,715.1 268.6,712.1 268.5,709.0 269.4,705.7 268.8,702.0 271.0,698.9 271.0,695.4 272.3,692.5 274.7,690.4 276.3,687.7 277.7,687.7 278.2,690.8 279.9,693.7 279.7,697.0 281.7,699.7 281.7,703.0 283.7,705.9 283.8,709.7 285.6,712.7 286.9,715.5 287.5,718.5" fill="none" stroke="#f26c0d" stroke-width="6.3" stroke-linejoin="round" stroke-linecap="butt"/>
<polyline clip-path="url(#cBR)" points="297.0,672.0 297.0,675.4 297.0,678.8 297.0,682.2 297.0,685.7 297.0,689.1 297.0,692.5 297.0,695.9 297.0,699.3 297.0,702.8 297.0,706.2 297.0,709.6 297.0,713.0 297.0,716.4 297.0,719.8 297.0,723.2 297.0,726.7 297.0,730.1 297.0,733.5 297.0,736.9 297.0,740.3 297.0,743.8 297.0,747.2 297.0,750.6 297.0,754.0 297.2,750.6 297.3,747.3 297.5,743.9 297.6,740.5 297.8,737.2 297.9,733.8 298.1,730.4 298.3,727.1 298.4,723.7 298.6,720.3 298.7,716.9 298.9,713.6 299.1,710.2 299.2,706.8 299.4,703.5 299.5,700.1 299.7,696.7 299.8,693.4 300.0,690.0 300.3,693.3 300.5,696.7 300.8,700.0 301.1,703.3 301.3,706.7 301.6,710.0 301.9,713.3 302.1,716.7 302.4,720.0 302.7,723.3 302.9,726.7 303.2,730.0 303.4,726.7 303.7,723.4 303.9,720.1 304.1,716.8 304.4,713.5 304.6,710.2 304.8,706.8 305.0,703.5 305.3,700.2 305.5,696.9 305.7,693.6 306.0,690.3 306.2,687.0 306.6,683.7 306.9,680.5 307.3,677.2 307.7,673.9 308.1,670.6 308.4,667.4 308.8,664.1 309.2,660.8 309.6,657.5 309.9,654.3 310.3,651.0 310.6,647.8 311.0,644.6 311.3,641.5 311.6,638.3 312.0,635.1 312.3,631.9 312.6,628.8 313.0,625.6 313.3,622.4 313.9,619.2 314.5,616.0 315.1,612.8 315.6,609.6 316.2,606.4 316.8,603.2 317.4,600.0 317.8,597.0 318.2,594.0 318.6,591.0 319.0,588.0 319.4,585.0 319.5,581.9 319.6,578.8 319.8,575.6 319.9,572.5 320.0,569.4 320.1,566.2 320.3,563.1 320.4,560.0 320.5,556.7 320.7,553.5 320.8,550.2 320.9,546.9 321.0,543.6 321.2,540.4 321.3,537.1 321.4,533.8 321.5,530.6 321.7,527.3 323.7,527.3 323.8,530.8 323.9,534.2 324.0,537.6 323.3,541.1 324.8,544.5 324.3,548.0 326.7,548.0 326.0,544.6 326.2,541.2 327.6,537.8 327.9,534.4 328.3,531.0 327.8,527.6 327.8,524.2 328.0,520.8 327.7,517.4 328.0,514.0 327.3,510.6 327.2,507.2 329.0,503.8 329.0,500.4 328.5,497.0 330.7,498.9 333.6,499.0 333.5,502.2 334.3,505.3 335.5,508.3 334.5,511.7 335.6,514.7 335.4,518.0 336.5,521.0 338.9,521.0 339.5,517.6 339.6,514.2 339.4,510.7 339.8,507.3 339.2,503.9 339.8,500.4 339.5,497.0 341.9,497.0 342.4,499.8 342.8,502.6 342.6,505.6 343.3,508.3 344.6,511.0 347.0,511.0 347.5,507.8 347.4,504.6 346.8,501.3 348.2,498.1 347.6,494.9 350.0,494.9 350.8,497.6 351.6,500.2 352.0,503.0 352.2,505.9 353.8,508.3 354.7,511.0 356.7,511.0 357.2,508.0 356.3,504.9 357.5,501.9 357.9,498.9 357.3,495.8 357.2,492.8 359.2,492.8 359.0,495.7 360.0,498.4 360.1,501.3 361.0,504.0 361.8,507.0 362.8,509.9 362.3,513.2 363.8,516.0 366.2,516.0 366.9,512.8 367.8,509.7 366.9,506.4 367.2,503.1 368.0,500.0 368.8,497.0 369.7,494.0 369.4,490.8 371.0,488.0 370.9,485.1 372.5,482.7 373.0,480.0 375.4,480.0 376.6,483.3 376.7,486.7 375.4,490.2 375.7,493.6 376.1,496.9 377.6,500.2 376.6,503.7 377.8,507.0 380.2,507.0 380.3,503.8 381.4,500.7 380.7,497.4 382.3,494.3 381.7,491.0 384.1,491.0 385.0,494.3 385.5,497.7 385.6,501.1 385.0,504.5 386.4,507.8 385.5,511.3 385.5,514.7 386.4,518.0 388.8,518.0 389.5,514.6 389.7,511.1 389.6,507.7 389.4,504.2 389.5,500.7 389.2,497.3 389.8,493.8 390.1,490.4 390.0,486.9 391.0,483.5 390.3,480.0 392.7,480.0 394.0,483.0 396.5,485.1 397.9,488.0 398.3,491.0 400.5,493.2 401.4,496.0 403.6,496.0 403.8,492.8 403.1,489.5 404.5,486.3 403.4,483.0 403.8,479.7 405.4,476.5 405.7,473.3 405.0,470.0 405.2,466.8 405.9,463.5 405.4,460.3 404.7,457.0 405.1,453.7 406.1,450.5 406.7,447.3 406.2,444.0 406.4,440.8 408.2,440.8 407.5,443.9 407.7,446.9 409.7,449.8 409.8,452.9 408.8,456.0 408.4,459.0 409.5,462.0 409.5,465.0 409.3,468.0 409.8,471.0 409.9,474.0 411.2,476.9 410.6,480.0 412.5,480.0 413.7,477.6 414.1,475.0 414.0,472.3 416.4,472.3 415.8,475.6 415.8,478.9 416.4,482.2 417.8,485.5 417.0,488.8 418.3,492.1 417.0,495.4 416.7,498.7 417.8,502.0 420.2,502.0 419.9,498.8 419.8,495.7 421.4,492.7 421.8,489.6 420.7,486.3 422.0,483.3 422.1,480.2 421.8,477.0 424.2,477.0 425.5,480.3 425.0,483.8 424.8,487.3 426.5,490.5 427.7,493.8 428.3,497.2 427.8,500.7 430.0,500.4 430.5,497.0 431.3,493.7 430.0,490.2 431.1,486.9 431.0,483.5 431.1,480.1 431.6,476.7 431.3,473.3 431.4,469.9 431.9,466.5 434.3,466.5 434.6,469.9 434.3,473.4 434.8,476.8 435.7,480.2 435.8,483.6 436.6,487.0 435.3,490.5 436.4,493.9 436.5,497.3 438.0,499.9 437.2,503.2 438.8,505.8 440.9,505.8 441.3,502.6 442.0,499.5 441.3,496.2 441.2,493.0 441.4,489.8 442.4,486.7 442.3,483.5 443.9,480.6 443.7,477.3 445.6,477.3 446.2,480.7 445.9,484.1 446.0,487.4 445.8,490.8 446.2,494.2 448.3,494.2 449.1,491.1 448.8,488.0 447.7,484.9 449.1,481.9 448.9,478.8 451.1,478.8 451.4,482.3 450.6,485.8 450.9,489.3 451.7,492.7 453.8,492.7 454.5,489.3 455.0,485.9 454.8,482.5 453.6,479.0 455.1,475.6 454.5,472.2 454.4,468.8 456.5,468.8 456.5,472.2 457.0,475.6 456.1,479.1 456.6,482.5 456.7,485.9 456.9,489.3 457.1,492.7 459.2,492.7 460.3,489.3 459.6,485.8 459.9,482.3 459.8,478.8 461.7,478.8 462.8,481.9 462.9,484.9 462.3,488.0 461.5,491.1 462.2,494.2 464.3,494.2 465.0,490.9 464.6,487.5 464.3,484.2 465.0,480.9 465.8,477.6 465.0,474.2 467.1,474.2 467.6,477.3 466.9,480.4 468.2,483.4 467.4,486.5 468.1,489.6 467.6,492.7 469.2,492.7 470.3,489.6 469.4,486.6 469.9,483.5 470.2,480.4 469.5,477.3 469.7,474.3 469.6,471.2 471.4,471.2 471.4,474.5 471.1,477.8 470.9,481.1 471.6,484.3 471.8,487.6 472.4,490.9 472.0,494.2 474.3,494.2 475.0,490.8 475.5,487.5 475.2,484.1 474.3,480.7 475.0,477.3 477.4,477.3 476.7,480.5 477.9,483.5 477.5,486.6 479.3,489.6 478.8,492.7 479.2,495.8 480.5,498.7 480.3,502.0 481.1,505.0 483.5,505.0 483.1,501.8 484.7,498.9 484.4,495.7 485.5,492.7 484.7,489.5 485.4,486.5 485.9,483.6 485.6,480.5 486.1,477.6 486.6,474.6 487.7,471.8 488.0,468.8 490.2,468.8 491.2,471.7 489.7,474.7 490.4,477.6 490.5,480.6 490.8,483.5 492.9,483.5 493.3,480.9 494.9,478.6 494.6,475.8 495.9,478.3 497.7,480.4 498.4,477.1 500.0,474.2 502.3,475.8" fill="none" stroke="#f26c0d" stroke-width="6.3" stroke-linejoin="round" stroke-linecap="butt"/>
<g stroke="#000" stroke-width="2.3" fill="none" stroke-linecap="butt">
<line x1="80.1" y1="4.9" x2="80.1" y2="836.6"/>
<line x1="503.4" y1="4.9" x2="503.4" y2="836.6"/>
<line x1="80.1" y1="5.9" x2="503.4" y2="5.9"/>
<line x1="80.1" y1="835.6" x2="503.4" y2="835.6"/>
</g>
<line x1="80.1" y1="421.0" x2="503.4" y2="421.0" stroke="#000" stroke-width="2.8"/>
<rect x="288.5" y="3.9" width="6.5" height="4" fill="#fff"/>
<g stroke="#000" stroke-width="2.8" stroke-linecap="butt">
<line x1="280.5" y1="11.1" x2="293.5" y2="1.3"/>
<line x1="289.5" y1="11.1" x2="302.5" y2="1.3"/>
</g>
<g stroke="#000" stroke-width="2.8" stroke-linecap="butt">
<line x1="280.5" y1="426.2" x2="293.5" y2="416.4"/>
<line x1="289.5" y1="426.2" x2="302.5" y2="416.4"/>
</g>
<rect x="288.5" y="833.6" width="6.5" height="4" fill="#fff"/>
<g stroke="#000" stroke-width="2.8" stroke-linecap="butt">
<line x1="280.5" y1="840.8" x2="293.5" y2="831.0"/>
<line x1="289.5" y1="840.8" x2="302.5" y2="831.0"/>
</g>
<text x="72.4" y="51.7" font-size="21.5" text-anchor="end" textLength="31.0" lengthAdjust="spacingAndGlyphs">1.0</text>
<text x="72.4" y="146.0" font-size="21.5" text-anchor="end" textLength="31.0" lengthAdjust="spacingAndGlyphs">0.5</text>
<text x="72.4" y="240.3" font-size="21.5" text-anchor="end" textLength="31.0" lengthAdjust="spacingAndGlyphs">0.0</text>
<text x="72.4" y="334.6" font-size="21.5" text-anchor="end" textLength="44.0" lengthAdjust="spacingAndGlyphs">−0.5</text>
<text x="72.4" y="427.9" font-size="21.5" text-anchor="end" textLength="44.0" lengthAdjust="spacingAndGlyphs">−1.0</text>
<text x="72.4" y="467.3" font-size="21.5" text-anchor="end" textLength="31.0" lengthAdjust="spacingAndGlyphs">1.0</text>
<text x="72.4" y="561.7" font-size="21.5" text-anchor="end" textLength="31.0" lengthAdjust="spacingAndGlyphs">0.5</text>
<text x="72.4" y="656.1" font-size="21.5" text-anchor="end" textLength="31.0" lengthAdjust="spacingAndGlyphs">0.0</text>
<text x="72.4" y="750.5" font-size="21.5" text-anchor="end" textLength="44.0" lengthAdjust="spacingAndGlyphs">−0.5</text>
<text x="72.4" y="844.9" font-size="21.5" text-anchor="end" textLength="44.0" lengthAdjust="spacingAndGlyphs">−1.0</text>
<text x="109.0" y="860.0" font-size="21.5" text-anchor="middle">0</text>
<text x="228.0" y="860.0" font-size="21.5" text-anchor="middle">2</text>
<text x="363.3" y="860.0" font-size="21.5" text-anchor="middle">100</text>
<text x="433.6" y="860.0" font-size="21.5" text-anchor="middle">200</text>
<text x="503.4" y="860.0" font-size="21.5" text-anchor="middle">300</text>
<text x="290.8" y="882.8" font-size="21.5" text-anchor="middle">Delay (ps)</text>
<text transform="translate(16.5,216.0) rotate(-90)" font-size="21.5" text-anchor="middle" textLength="212.5" lengthAdjust="spacingAndGlyphs">Magnetization (norm.)</text>
<text transform="translate(16.5,631.5) rotate(-90)" font-size="21.5" text-anchor="middle" textLength="212.5" lengthAdjust="spacingAndGlyphs">Magnetization (norm.)</text>
<text x="0.3" y="49.0" font-size="27" font-weight="bold">a</text>
<text x="0.5" y="466.2" font-size="27" font-weight="bold">b</text>
<rect x="378.2" y="286.6" width="120.6" height="129.1" fill="#a6a6a6"/>
<rect x="374.2" y="282.6" width="118.6" height="127.2" fill="#fff" stroke="#000" stroke-width="2.4"/>
<text x="394" y="307.6" font-size="21.5"><tspan font-style="italic">μ</tspan><tspan font-size="16" dy="3.5" dx="1">0</tspan><tspan dy="-3.5" dx="6" font-style="italic">H</tspan><tspan dx="1.5"> (T)</tspan></text>
<line x1="379.2" y1="329.2" x2="428.6" y2="329.2" stroke="#000000" stroke-width="5.6"/>
<text x="442.3" y="336.7" font-size="21.5" textLength="41.5" lengthAdjust="spacingAndGlyphs">0.20</text>
<line x1="379.2" y1="359.4" x2="428.6" y2="359.4" stroke="#df0030" stroke-width="5.6"/>
<text x="442.3" y="366.9" font-size="21.5" textLength="41.5" lengthAdjust="spacingAndGlyphs">0.60</text>
<line x1="379.2" y1="389.7" x2="428.6" y2="389.7" stroke="#118acb" stroke-width="5.6"/>
<text x="442.3" y="397.2" font-size="21.5" textLength="41.5" lengthAdjust="spacingAndGlyphs">1.20</text>
<rect x="376.0" y="638.2" width="122.8" height="193.1" fill="#a6a6a6"/>
<rect x="372.0" y="634.2" width="120.8" height="191.2" fill="#fff" stroke="#000" stroke-width="2.4"/>
<text x="379" y="662.4" font-size="21.5"><tspan font-style="italic">F</tspan><tspan> (mJ/cm</tspan><tspan font-size="15" dy="-7">2</tspan><tspan dy="7">)</tspan></text>
<line x1="379.2" y1="684.5" x2="428.6" y2="684.5" stroke="#000000" stroke-width="5.6"/>
<text x="441.8" y="692.0" font-size="21.5" textLength="41.5" lengthAdjust="spacingAndGlyphs">1.74</text>
<line x1="379.2" y1="714.8" x2="428.6" y2="714.8" stroke="#df0030" stroke-width="5.6"/>
<text x="441.8" y="722.3" font-size="21.5" textLength="41.5" lengthAdjust="spacingAndGlyphs">2.62</text>
<line x1="379.2" y1="745.0" x2="428.6" y2="745.0" stroke="#118acb" stroke-width="5.6"/>
<text x="441.8" y="752.5" font-size="21.5" textLength="41.5" lengthAdjust="spacingAndGlyphs">3.49</text>
<line x1="379.2" y1="775.1" x2="428.6" y2="775.1" stroke="#4a9a2b" stroke-width="5.6"/>
<text x="441.8" y="782.6" font-size="21.5" textLength="41.5" lengthAdjust="spacingAndGlyphs">4.36</text>
<line x1="379.2" y1="805.3" x2="428.6" y2="805.3" stroke="#f26c0d" stroke-width="5.6"/>
<text x="441.8" y="812.8" font-size="21.5" textLength="41.5" lengthAdjust="spacingAndGlyphs">5.23</text>
</svg></body></html>
